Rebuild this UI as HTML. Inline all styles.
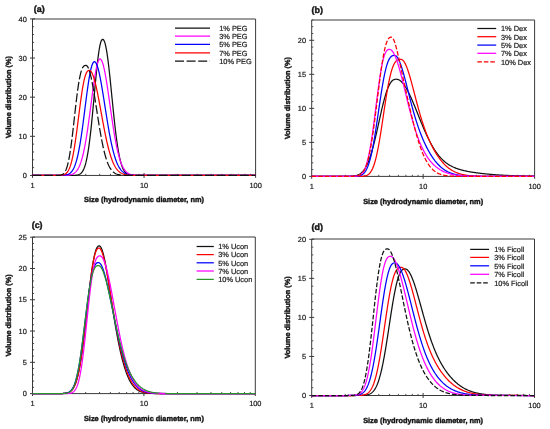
<!DOCTYPE html>
<html><head><meta charset="utf-8"><style>
html,body{margin:0;padding:0;background:#fff;}
svg{display:block;}
text{font-family:"Liberation Sans", Arial, sans-serif;fill:#1a1a1a;text-rendering:geometricPrecision;}
.b{font-weight:bold;stroke:#111;stroke-width:0.4px;}
.r{stroke:#1a1a1a;stroke-width:0.2px;}
</style></head><body>
<svg width="550" height="429" viewBox="0 0 550 429">
<rect width="550" height="429" fill="#fff"/>
<path d="M32.5,177.85 V19 H255.6 V177.85" fill="none" stroke="#3a3a3a" stroke-width="1"/>
<path d="M32.5,175.45 H255.6" fill="none" stroke="#3a3a3a" stroke-width="1"/>
<path d="M66.08,175.45 V173.85" stroke="#3a3a3a" stroke-width="0.9"/>
<path d="M85.72,175.45 V173.85" stroke="#3a3a3a" stroke-width="0.9"/>
<path d="M99.66,175.45 V173.85" stroke="#3a3a3a" stroke-width="0.9"/>
<path d="M110.47,175.45 V173.85" stroke="#3a3a3a" stroke-width="0.9"/>
<path d="M119.30,175.45 V173.85" stroke="#3a3a3a" stroke-width="0.9"/>
<path d="M126.77,175.45 V173.85" stroke="#3a3a3a" stroke-width="0.9"/>
<path d="M133.24,175.45 V173.85" stroke="#3a3a3a" stroke-width="0.9"/>
<path d="M138.95,175.45 V173.85" stroke="#3a3a3a" stroke-width="0.9"/>
<path d="M177.63,175.45 V173.85" stroke="#3a3a3a" stroke-width="0.9"/>
<path d="M197.27,175.45 V173.85" stroke="#3a3a3a" stroke-width="0.9"/>
<path d="M211.21,175.45 V173.85" stroke="#3a3a3a" stroke-width="0.9"/>
<path d="M222.02,175.45 V173.85" stroke="#3a3a3a" stroke-width="0.9"/>
<path d="M230.85,175.45 V173.85" stroke="#3a3a3a" stroke-width="0.9"/>
<path d="M238.32,175.45 V173.85" stroke="#3a3a3a" stroke-width="0.9"/>
<path d="M244.79,175.45 V173.85" stroke="#3a3a3a" stroke-width="0.9"/>
<path d="M250.50,175.45 V173.85" stroke="#3a3a3a" stroke-width="0.9"/>
<path d="M144.05,177.95 V172.95" stroke="#3a3a3a" stroke-width="1"/>
<path d="M30.0,175.45 H35.0" stroke="#3a3a3a" stroke-width="1"/>
<text class="r" x="26.80" y="178.10" text-anchor="end" font-size="7.4" >0</text>
<path d="M32.5,167.62 H34.1" stroke="#3a3a3a" stroke-width="0.9"/>
<path d="M32.5,159.79 H34.1" stroke="#3a3a3a" stroke-width="0.9"/>
<path d="M32.5,151.97 H34.1" stroke="#3a3a3a" stroke-width="0.9"/>
<path d="M32.5,144.14 H34.1" stroke="#3a3a3a" stroke-width="0.9"/>
<path d="M30.0,136.31 H35.0" stroke="#3a3a3a" stroke-width="1"/>
<text class="r" x="26.80" y="138.96" text-anchor="end" font-size="7.4" >10</text>
<path d="M32.5,128.49 H34.1" stroke="#3a3a3a" stroke-width="0.9"/>
<path d="M32.5,120.66 H34.1" stroke="#3a3a3a" stroke-width="0.9"/>
<path d="M32.5,112.83 H34.1" stroke="#3a3a3a" stroke-width="0.9"/>
<path d="M32.5,105.00 H34.1" stroke="#3a3a3a" stroke-width="0.9"/>
<path d="M30.0,97.17 H35.0" stroke="#3a3a3a" stroke-width="1"/>
<text class="r" x="26.80" y="99.83" text-anchor="end" font-size="7.4" >20</text>
<path d="M32.5,89.35 H34.1" stroke="#3a3a3a" stroke-width="0.9"/>
<path d="M32.5,81.52 H34.1" stroke="#3a3a3a" stroke-width="0.9"/>
<path d="M32.5,73.69 H34.1" stroke="#3a3a3a" stroke-width="0.9"/>
<path d="M32.5,65.87 H34.1" stroke="#3a3a3a" stroke-width="0.9"/>
<path d="M30.0,58.04 H35.0" stroke="#3a3a3a" stroke-width="1"/>
<text class="r" x="26.80" y="60.69" text-anchor="end" font-size="7.4" >30</text>
<path d="M32.5,50.21 H34.1" stroke="#3a3a3a" stroke-width="0.9"/>
<path d="M32.5,42.38 H34.1" stroke="#3a3a3a" stroke-width="0.9"/>
<path d="M32.5,34.56 H34.1" stroke="#3a3a3a" stroke-width="0.9"/>
<path d="M32.5,26.73 H34.1" stroke="#3a3a3a" stroke-width="0.9"/>
<path d="M30.0,18.90 H35.0" stroke="#3a3a3a" stroke-width="1"/>
<text class="r" x="26.80" y="21.55" text-anchor="end" font-size="7.4" >40</text>
<path d="M32.50,175.45 L69.50,175.45 L70.00,175.44 L70.50,175.44 L71.00,175.44 L71.50,175.43 L72.00,175.43 L72.50,175.42 L73.00,175.41 L73.50,175.40 L74.00,175.38 L74.50,175.36 L75.00,175.33 L75.50,175.29 L76.00,175.24 L76.50,175.18 L77.00,175.10 L77.50,175.00 L78.00,174.87 L78.50,174.72 L79.00,174.52 L79.50,174.29 L80.00,174.00 L80.50,173.65 L81.00,173.23 L81.50,172.73 L82.00,172.14 L82.50,171.43 L83.00,170.60 L83.50,169.64 L84.00,168.52 L84.50,167.23 L85.00,165.75 L85.50,164.06 L86.00,162.16 L86.50,160.02 L87.00,157.64 L87.50,154.99 L88.00,152.08 L88.50,148.89 L89.00,145.42 L89.50,141.67 L90.00,137.65 L90.50,133.36 L91.00,128.83 L91.50,124.07 L92.00,119.10 L92.50,113.96 L93.00,108.68 L93.50,103.29 L94.00,97.85 L94.50,92.39 L95.00,86.97 L95.50,81.63 L96.00,76.43 L96.50,71.41 L97.00,66.63 L97.50,62.14 L98.00,57.96 L98.50,54.16 L99.00,50.75 L99.50,47.77 L100.00,45.24 L100.50,43.17 L101.00,41.56 L101.50,40.42 L102.00,39.72 L102.50,39.43 L103.00,39.46 L103.50,39.80 L104.00,40.51 L104.50,41.62 L105.00,43.14 L105.50,45.06 L106.00,47.38 L106.50,50.09 L107.00,53.18 L107.50,56.61 L108.00,60.36 L108.50,64.41 L109.00,68.71 L109.50,73.23 L110.00,77.93 L110.50,82.78 L111.00,87.73 L111.50,92.74 L112.00,97.77 L112.50,102.79 L113.00,107.75 L113.50,112.64 L114.00,117.41 L114.50,122.04 L115.00,126.50 L115.50,130.78 L116.00,134.85 L116.50,138.71 L117.00,142.34 L117.50,145.74 L118.00,148.91 L118.50,151.84 L119.00,154.53 L119.50,157.00 L120.00,159.25 L120.50,161.29 L121.00,163.13 L121.50,164.77 L122.00,166.24 L122.50,167.54 L123.00,168.69 L123.50,169.69 L124.00,170.57 L124.50,171.34 L125.00,172.00 L125.50,172.56 L126.00,173.05 L126.50,173.46 L127.00,173.81 L127.50,174.10 L128.00,174.35 L128.50,174.56 L129.00,174.73 L129.50,174.87 L130.00,174.98 L130.50,175.08 L131.00,175.15 L131.50,175.22 L132.00,175.27 L132.50,175.31 L133.00,175.34 L133.50,175.36 L134.00,175.38 L134.50,175.40 L135.00,175.41 L135.50,175.42 L136.00,175.43 L136.50,175.43 L137.00,175.44 L137.50,175.44 L138.00,175.44 L138.50,175.44 L139.00,175.45 L255.50,175.45" fill="none" stroke="#111" stroke-width="1.25"/>
<path d="M32.50,175.45 L58.00,175.45 L58.50,175.44 L59.00,175.44 L59.50,175.44 L60.00,175.44 L60.50,175.44 L61.00,175.43 L61.50,175.43 L62.00,175.42 L62.50,175.42 L63.00,175.41 L63.50,175.40 L64.00,175.39 L64.50,175.38 L65.00,175.36 L65.50,175.34 L66.00,175.32 L66.50,175.29 L67.00,175.25 L67.50,175.21 L68.00,175.16 L68.50,175.11 L69.00,175.04 L69.50,174.96 L70.00,174.86 L70.50,174.75 L71.00,174.62 L71.50,174.47 L72.00,174.30 L72.50,174.10 L73.00,173.87 L73.50,173.60 L74.00,173.29 L74.50,172.95 L75.00,172.55 L75.50,172.10 L76.00,171.59 L76.50,171.02 L77.00,170.37 L77.50,169.65 L78.00,168.85 L78.50,167.95 L79.00,166.96 L79.50,165.87 L80.00,164.66 L80.50,163.34 L81.00,161.89 L81.50,160.31 L82.00,158.60 L82.50,156.74 L83.00,154.74 L83.50,152.59 L84.00,150.30 L84.50,147.85 L85.00,145.24 L85.50,142.49 L86.00,139.59 L86.50,136.55 L87.00,133.37 L87.50,130.06 L88.00,126.63 L88.50,123.09 L89.00,119.46 L89.50,115.75 L90.00,111.97 L90.50,108.16 L91.00,104.32 L91.50,100.48 L92.00,96.67 L92.50,92.90 L93.00,89.20 L93.50,85.61 L94.00,82.14 L94.50,78.81 L95.00,75.67 L95.50,72.73 L96.00,70.01 L96.50,67.55 L97.00,65.36 L97.50,63.46 L98.00,61.87 L98.50,60.61 L99.00,59.69 L99.50,59.13 L100.00,58.94 L100.50,59.09 L101.00,59.54 L101.50,60.28 L102.00,61.31 L102.50,62.61 L103.00,64.19 L103.50,66.01 L104.00,68.08 L104.50,70.37 L105.00,72.87 L105.50,75.57 L106.00,78.43 L106.50,81.45 L107.00,84.60 L107.50,87.87 L108.00,91.23 L108.50,94.66 L109.00,98.15 L109.50,101.67 L110.00,105.21 L110.50,108.74 L111.00,112.25 L111.50,115.73 L112.00,119.15 L112.50,122.51 L113.00,125.80 L113.50,128.99 L114.00,132.09 L114.50,135.08 L115.00,137.96 L115.50,140.72 L116.00,143.36 L116.50,145.87 L117.00,148.25 L117.50,150.50 L118.00,152.62 L118.50,154.61 L119.00,156.48 L119.50,158.22 L120.00,159.84 L120.50,161.34 L121.00,162.73 L121.50,164.01 L122.00,165.19 L122.50,166.27 L123.00,167.26 L123.50,168.15 L124.00,168.97 L124.50,169.71 L125.00,170.38 L125.50,170.98 L126.00,171.52 L126.50,172.00 L127.00,172.43 L127.50,172.81 L128.00,173.15 L128.50,173.46 L129.00,173.72 L129.50,173.96 L130.00,174.16 L130.50,174.34 L131.00,174.50 L131.50,174.64 L132.00,174.75 L132.50,174.86 L133.00,174.95 L133.50,175.02 L134.00,175.09 L134.50,175.15 L135.00,175.19 L135.50,175.24 L136.00,175.27 L136.50,175.30 L137.00,175.32 L137.50,175.35 L138.00,175.36 L138.50,175.38 L139.00,175.39 L139.50,175.40 L140.00,175.41 L140.50,175.42 L141.00,175.42 L141.50,175.43 L142.00,175.43 L142.50,175.44 L143.00,175.44 L143.50,175.44 L144.00,175.44 L144.50,175.44 L145.00,175.45 L255.50,175.45" fill="none" stroke="#ff00ff" stroke-width="1.25"/>
<path d="M32.50,175.45 L56.00,175.45 L56.50,175.44 L57.00,175.44 L57.50,175.44 L58.00,175.44 L58.50,175.43 L59.00,175.43 L59.50,175.42 L60.00,175.42 L60.50,175.41 L61.00,175.39 L61.50,175.38 L62.00,175.36 L62.50,175.34 L63.00,175.31 L63.50,175.27 L64.00,175.23 L64.50,175.17 L65.00,175.11 L65.50,175.03 L66.00,174.93 L66.50,174.82 L67.00,174.69 L67.50,174.52 L68.00,174.33 L68.50,174.11 L69.00,173.85 L69.50,173.54 L70.00,173.18 L70.50,172.77 L71.00,172.30 L71.50,171.75 L72.00,171.12 L72.50,170.41 L73.00,169.61 L73.50,168.70 L74.00,167.68 L74.50,166.54 L75.00,165.27 L75.50,163.87 L76.00,162.32 L76.50,160.62 L77.00,158.76 L77.50,156.74 L78.00,154.55 L78.50,152.19 L79.00,149.66 L79.50,146.96 L80.00,144.09 L80.50,141.05 L81.00,137.86 L81.50,134.52 L82.00,131.05 L82.50,127.45 L83.00,123.74 L83.50,119.94 L84.00,116.08 L84.50,112.16 L85.00,108.22 L85.50,104.29 L86.00,100.38 L86.50,96.53 L87.00,92.75 L87.50,89.09 L88.00,85.57 L88.50,82.21 L89.00,79.04 L89.50,76.09 L90.00,73.37 L90.50,70.91 L91.00,68.73 L91.50,66.83 L92.00,65.23 L92.50,63.93 L93.00,62.94 L93.50,62.26 L94.00,61.87 L94.50,61.76 L95.00,61.91 L95.50,62.34 L96.00,63.03 L96.50,63.98 L97.00,65.17 L97.50,66.60 L98.00,68.25 L98.50,70.11 L99.00,72.16 L99.50,74.40 L100.00,76.80 L100.50,79.36 L101.00,82.05 L101.50,84.86 L102.00,87.78 L102.50,90.78 L103.00,93.86 L103.50,96.99 L104.00,100.16 L104.50,103.35 L105.00,106.55 L105.50,109.76 L106.00,112.94 L106.50,116.09 L107.00,119.20 L107.50,122.26 L108.00,125.26 L108.50,128.19 L109.00,131.04 L109.50,133.80 L110.00,136.47 L110.50,139.05 L111.00,141.52 L111.50,143.90 L112.00,146.16 L112.50,148.32 L113.00,150.37 L113.50,152.32 L114.00,154.15 L114.50,155.89 L115.00,157.51 L115.50,159.04 L116.00,160.46 L116.50,161.79 L117.00,163.03 L117.50,164.18 L118.00,165.24 L118.50,166.22 L119.00,167.12 L119.50,167.95 L120.00,168.72 L120.50,169.41 L121.00,170.05 L121.50,170.62 L122.00,171.15 L122.50,171.62 L123.00,172.05 L123.50,172.44 L124.00,172.79 L124.50,173.10 L125.00,173.38 L125.50,173.63 L126.00,173.86 L126.50,174.05 L127.00,174.23 L127.50,174.39 L128.00,174.53 L128.50,174.65 L129.00,174.75 L129.50,174.85 L130.00,174.93 L130.50,175.00 L131.00,175.06 L131.50,175.12 L132.00,175.17 L132.50,175.21 L133.00,175.24 L133.50,175.27 L134.00,175.30 L134.50,175.32 L135.00,175.34 L135.50,175.36 L136.00,175.37 L136.50,175.39 L137.00,175.40 L137.50,175.40 L138.00,175.41 L138.50,175.42 L139.00,175.42 L139.50,175.43 L140.00,175.43 L140.50,175.43 L141.00,175.44 L141.50,175.44 L142.00,175.44 L142.50,175.44 L143.00,175.44 L143.50,175.45 L255.50,175.45" fill="none" stroke="#0000ff" stroke-width="1.25"/>
<path d="M32.50,175.45 L55.50,175.45 L56.00,175.44 L56.50,175.44 L57.00,175.44 L57.50,175.43 L58.00,175.42 L58.50,175.41 L59.00,175.40 L59.50,175.38 L60.00,175.36 L60.50,175.33 L61.00,175.28 L61.50,175.23 L62.00,175.16 L62.50,175.08 L63.00,174.97 L63.50,174.83 L64.00,174.66 L64.50,174.45 L65.00,174.19 L65.50,173.88 L66.00,173.51 L66.50,173.06 L67.00,172.52 L67.50,171.89 L68.00,171.16 L68.50,170.30 L69.00,169.31 L69.50,168.17 L70.00,166.88 L70.50,165.42 L71.00,163.78 L71.50,161.96 L72.00,159.94 L72.50,157.72 L73.00,155.30 L73.50,152.68 L74.00,149.86 L74.50,146.85 L75.00,143.66 L75.50,140.30 L76.00,136.78 L76.50,133.13 L77.00,129.37 L77.50,125.52 L78.00,121.61 L78.50,117.66 L79.00,113.72 L79.50,109.81 L80.00,105.96 L80.50,102.20 L81.00,98.56 L81.50,95.08 L82.00,91.77 L82.50,88.66 L83.00,85.77 L83.50,83.12 L84.00,80.72 L84.50,78.57 L85.00,76.70 L85.50,75.09 L86.00,73.75 L86.50,72.66 L87.00,71.81 L87.50,71.19 L88.00,70.78 L88.50,70.55 L89.00,70.45 L89.50,70.46 L90.00,70.62 L90.50,70.96 L91.00,71.48 L91.50,72.19 L92.00,73.07 L92.50,74.14 L93.00,75.37 L93.50,76.77 L94.00,78.33 L94.50,80.05 L95.00,81.90 L95.50,83.89 L96.00,86.01 L96.50,88.24 L97.00,90.57 L97.50,92.99 L98.00,95.50 L98.50,98.07 L99.00,100.71 L99.50,103.39 L100.00,106.10 L100.50,108.84 L101.00,111.60 L101.50,114.35 L102.00,117.10 L102.50,119.83 L103.00,122.53 L103.50,125.20 L104.00,127.82 L104.50,130.39 L105.00,132.91 L105.50,135.36 L106.00,137.75 L106.50,140.06 L107.00,142.29 L107.50,144.44 L108.00,146.51 L108.50,148.49 L109.00,150.38 L109.50,152.19 L110.00,153.90 L110.50,155.53 L111.00,157.08 L111.50,158.53 L112.00,159.90 L112.50,161.19 L113.00,162.39 L113.50,163.52 L114.00,164.57 L114.50,165.55 L115.00,166.45 L115.50,167.29 L116.00,168.07 L116.50,168.79 L117.00,169.44 L117.50,170.05 L118.00,170.60 L118.50,171.10 L119.00,171.56 L119.50,171.98 L120.00,172.36 L120.50,172.70 L121.00,173.01 L121.50,173.29 L122.00,173.54 L122.50,173.77 L123.00,173.97 L123.50,174.15 L124.00,174.31 L124.50,174.45 L125.00,174.58 L125.50,174.69 L126.00,174.79 L126.50,174.87 L127.00,174.95 L127.50,175.02 L128.00,175.08 L128.50,175.13 L129.00,175.17 L129.50,175.21 L130.00,175.25 L130.50,175.28 L131.00,175.30 L131.50,175.32 L132.00,175.34 L132.50,175.36 L133.00,175.37 L133.50,175.39 L134.00,175.40 L134.50,175.40 L135.00,175.41 L135.50,175.42 L136.00,175.42 L136.50,175.43 L137.00,175.43 L137.50,175.43 L138.00,175.44 L138.50,175.44 L139.00,175.44 L139.50,175.44 L140.00,175.44 L140.50,175.45 L255.50,175.45" fill="none" stroke="#ff0000" stroke-width="1.25"/>
<path d="M32.50,175.45 L55.00,175.45 L55.50,175.44 L56.00,175.44 L56.50,175.43 L57.00,175.42 L57.50,175.41 L58.00,175.39 L58.50,175.37 L59.00,175.33 L59.50,175.29 L60.00,175.22 L60.50,175.13 L61.00,175.01 L61.50,174.86 L62.00,174.65 L62.50,174.39 L63.00,174.06 L63.50,173.65 L64.00,173.14 L64.50,172.51 L65.00,171.75 L65.50,170.83 L66.00,169.74 L66.50,168.46 L67.00,166.96 L67.50,165.25 L68.00,163.29 L68.50,161.08 L69.00,158.61 L69.50,155.87 L70.00,152.87 L70.50,149.62 L71.00,146.11 L71.50,142.38 L72.00,138.45 L72.50,134.33 L73.00,130.06 L73.50,125.69 L74.00,121.23 L74.50,116.75 L75.00,112.27 L75.50,107.84 L76.00,103.51 L76.50,99.30 L77.00,95.26 L77.50,91.42 L78.00,87.81 L78.50,84.45 L79.00,81.37 L79.50,78.57 L80.00,76.06 L80.50,73.86 L81.00,71.94 L81.50,70.32 L82.00,68.97 L82.50,67.88 L83.00,67.03 L83.50,66.39 L84.00,65.95 L84.50,65.66 L85.00,65.51 L85.50,65.45 L86.00,65.43 L86.50,65.55 L87.00,65.90 L87.50,66.49 L88.00,67.32 L88.50,68.38 L89.00,69.68 L89.50,71.19 L90.00,72.92 L90.50,74.86 L91.00,76.98 L91.50,79.28 L92.00,81.75 L92.50,84.37 L93.00,87.12 L93.50,89.99 L94.00,92.96 L94.50,96.01 L95.00,99.13 L95.50,102.30 L96.00,105.50 L96.50,108.72 L97.00,111.95 L97.50,115.16 L98.00,118.34 L98.50,121.49 L99.00,124.58 L99.50,127.61 L100.00,130.57 L100.50,133.44 L101.00,136.23 L101.50,138.92 L102.00,141.50 L102.50,143.98 L103.00,146.35 L103.50,148.60 L104.00,150.74 L104.50,152.76 L105.00,154.67 L105.50,156.46 L106.00,158.14 L106.50,159.71 L107.00,161.17 L107.50,162.53 L108.00,163.79 L108.50,164.95 L109.00,166.02 L109.50,166.99 L110.00,167.89 L110.50,168.71 L111.00,169.45 L111.50,170.13 L112.00,170.74 L112.50,171.29 L113.00,171.78 L113.50,172.23 L114.00,172.62 L114.50,172.98 L115.00,173.29 L115.50,173.57 L116.00,173.82 L116.50,174.04 L117.00,174.23 L117.50,174.40 L118.00,174.55 L118.50,174.67 L119.00,174.79 L119.50,174.88 L120.00,174.97 L120.50,175.04 L121.00,175.10 L121.50,175.16 L122.00,175.20 L122.50,175.24 L123.00,175.28 L123.50,175.30 L124.00,175.33 L124.50,175.35 L125.00,175.37 L125.50,175.38 L126.00,175.39 L126.50,175.40 L127.00,175.41 L127.50,175.42 L128.00,175.42 L128.50,175.43 L129.00,175.43 L129.50,175.44 L130.00,175.44 L130.50,175.44 L131.00,175.44 L131.50,175.44 L132.00,175.45 L255.50,175.45" fill="none" stroke="#111" stroke-width="1.25" stroke-dasharray="9,2.6"/>
<text class="r" x="32.50" y="188.30" text-anchor="middle" font-size="7.4" >1</text>
<text class="r" x="144.05" y="188.30" text-anchor="middle" font-size="7.4" >10</text>
<text class="r" x="255.60" y="188.30" text-anchor="middle" font-size="7.4" >100</text>
<text class="b" x="144.05" y="202.00" text-anchor="middle" font-size="7.4" >Size (hydrodynamic diameter, nm)</text>
<text transform="translate(11.20,97.17) rotate(-90)" class="b" text-anchor="middle" font-size="7.4">Volume distribution (%)</text>
<text class="b" x="33.80" y="12.20" text-anchor="start" font-size="8.9" >(a)</text>
<path d="M175,28.0 H210" stroke="#111" stroke-width="1.25"/>
<text class="r" x="219.20" y="30.80" text-anchor="start" font-size="7.4" >1% PEG</text>
<path d="M175,36.1 H210" stroke="#ff00ff" stroke-width="1.25"/>
<text class="r" x="219.20" y="38.90" text-anchor="start" font-size="7.4" >3% PEG</text>
<path d="M175,44.4 H210" stroke="#0000ff" stroke-width="1.25"/>
<text class="r" x="219.20" y="47.20" text-anchor="start" font-size="7.4" >5% PEG</text>
<path d="M175,52.8 H210" stroke="#ff0000" stroke-width="1.25"/>
<text class="r" x="219.20" y="55.60" text-anchor="start" font-size="7.4" >7% PEG</text>
<path d="M175,61.2 H210" stroke="#111" stroke-width="1.25" stroke-dasharray="9,2.6"/>
<text class="r" x="219.20" y="64.00" text-anchor="start" font-size="7.4" >10% PEG</text>
<path d="M311.7,178.8 V20 H534.6 V178.8" fill="none" stroke="#3a3a3a" stroke-width="1"/>
<path d="M311.7,176.4 H534.6" fill="none" stroke="#3a3a3a" stroke-width="1"/>
<path d="M345.25,176.4 V174.8" stroke="#3a3a3a" stroke-width="0.9"/>
<path d="M364.88,176.4 V174.8" stroke="#3a3a3a" stroke-width="0.9"/>
<path d="M378.80,176.4 V174.8" stroke="#3a3a3a" stroke-width="0.9"/>
<path d="M389.60,176.4 V174.8" stroke="#3a3a3a" stroke-width="0.9"/>
<path d="M398.42,176.4 V174.8" stroke="#3a3a3a" stroke-width="0.9"/>
<path d="M405.89,176.4 V174.8" stroke="#3a3a3a" stroke-width="0.9"/>
<path d="M412.35,176.4 V174.8" stroke="#3a3a3a" stroke-width="0.9"/>
<path d="M418.05,176.4 V174.8" stroke="#3a3a3a" stroke-width="0.9"/>
<path d="M456.70,176.4 V174.8" stroke="#3a3a3a" stroke-width="0.9"/>
<path d="M476.33,176.4 V174.8" stroke="#3a3a3a" stroke-width="0.9"/>
<path d="M490.25,176.4 V174.8" stroke="#3a3a3a" stroke-width="0.9"/>
<path d="M501.05,176.4 V174.8" stroke="#3a3a3a" stroke-width="0.9"/>
<path d="M509.87,176.4 V174.8" stroke="#3a3a3a" stroke-width="0.9"/>
<path d="M517.34,176.4 V174.8" stroke="#3a3a3a" stroke-width="0.9"/>
<path d="M523.80,176.4 V174.8" stroke="#3a3a3a" stroke-width="0.9"/>
<path d="M529.50,176.4 V174.8" stroke="#3a3a3a" stroke-width="0.9"/>
<path d="M423.15,178.9 V173.9" stroke="#3a3a3a" stroke-width="1"/>
<path d="M309.2,176.40 H314.2" stroke="#3a3a3a" stroke-width="1"/>
<text class="r" x="306.00" y="179.05" text-anchor="end" font-size="7.4" >0</text>
<path d="M311.7,169.60 H313.3" stroke="#3a3a3a" stroke-width="0.9"/>
<path d="M311.7,162.79 H313.3" stroke="#3a3a3a" stroke-width="0.9"/>
<path d="M311.7,155.99 H313.3" stroke="#3a3a3a" stroke-width="0.9"/>
<path d="M311.7,149.18 H313.3" stroke="#3a3a3a" stroke-width="0.9"/>
<path d="M309.2,142.38 H314.2" stroke="#3a3a3a" stroke-width="1"/>
<text class="r" x="306.00" y="145.03" text-anchor="end" font-size="7.4" >5</text>
<path d="M311.7,135.57 H313.3" stroke="#3a3a3a" stroke-width="0.9"/>
<path d="M311.7,128.77 H313.3" stroke="#3a3a3a" stroke-width="0.9"/>
<path d="M311.7,121.97 H313.3" stroke="#3a3a3a" stroke-width="0.9"/>
<path d="M311.7,115.16 H313.3" stroke="#3a3a3a" stroke-width="0.9"/>
<path d="M309.2,108.36 H314.2" stroke="#3a3a3a" stroke-width="1"/>
<text class="r" x="306.00" y="111.01" text-anchor="end" font-size="7.4" >10</text>
<path d="M311.7,101.55 H313.3" stroke="#3a3a3a" stroke-width="0.9"/>
<path d="M311.7,94.75 H313.3" stroke="#3a3a3a" stroke-width="0.9"/>
<path d="M311.7,87.94 H313.3" stroke="#3a3a3a" stroke-width="0.9"/>
<path d="M311.7,81.14 H313.3" stroke="#3a3a3a" stroke-width="0.9"/>
<path d="M309.2,74.33 H314.2" stroke="#3a3a3a" stroke-width="1"/>
<text class="r" x="306.00" y="76.98" text-anchor="end" font-size="7.4" >15</text>
<path d="M311.7,67.53 H313.3" stroke="#3a3a3a" stroke-width="0.9"/>
<path d="M311.7,60.73 H313.3" stroke="#3a3a3a" stroke-width="0.9"/>
<path d="M311.7,53.92 H313.3" stroke="#3a3a3a" stroke-width="0.9"/>
<path d="M311.7,47.12 H313.3" stroke="#3a3a3a" stroke-width="0.9"/>
<path d="M309.2,40.31 H314.2" stroke="#3a3a3a" stroke-width="1"/>
<text class="r" x="306.00" y="42.96" text-anchor="end" font-size="7.4" >20</text>
<path d="M311.7,33.51 H313.3" stroke="#3a3a3a" stroke-width="0.9"/>
<path d="M311.7,26.70 H313.3" stroke="#3a3a3a" stroke-width="0.9"/>
<path d="M311.7,19.90 H313.3" stroke="#3a3a3a" stroke-width="0.9"/>
<path d="M311.70,176.40 L341.70,176.40 L342.20,176.39 L342.70,176.39 L343.20,176.39 L343.70,176.39 L344.20,176.39 L344.70,176.38 L345.20,176.38 L345.70,176.38 L346.20,176.37 L346.70,176.36 L347.20,176.36 L347.70,176.35 L348.20,176.34 L348.70,176.32 L349.20,176.31 L349.70,176.29 L350.20,176.27 L350.70,176.24 L351.20,176.21 L351.70,176.18 L352.20,176.14 L352.70,176.09 L353.20,176.03 L353.70,175.97 L354.20,175.90 L354.70,175.81 L355.20,175.72 L355.70,175.61 L356.20,175.48 L356.70,175.34 L357.20,175.18 L357.70,175.00 L358.20,174.80 L358.70,174.57 L359.20,174.31 L359.70,174.03 L360.20,173.71 L360.70,173.36 L361.20,172.98 L361.70,172.55 L362.20,172.08 L362.70,171.57 L363.20,171.00 L363.70,170.39 L364.20,169.73 L364.70,169.00 L365.20,168.22 L365.70,167.38 L366.20,166.48 L366.70,165.51 L367.20,164.47 L367.70,163.37 L368.20,162.19 L368.70,160.95 L369.20,159.63 L369.70,158.24 L370.20,156.78 L370.70,155.25 L371.20,153.64 L371.70,151.97 L372.20,150.23 L372.70,148.42 L373.20,146.56 L373.70,144.63 L374.20,142.64 L374.70,140.61 L375.20,138.53 L375.70,136.40 L376.20,134.24 L376.70,132.04 L377.20,129.82 L377.70,127.58 L378.20,125.32 L378.70,123.06 L379.20,120.80 L379.70,118.54 L380.20,116.30 L380.70,114.08 L381.20,111.89 L381.70,109.73 L382.20,107.61 L382.70,105.53 L383.20,103.51 L383.70,101.55 L384.20,99.65 L384.70,97.83 L385.20,96.07 L385.70,94.40 L386.20,92.81 L386.70,91.30 L387.20,89.88 L387.70,88.55 L388.20,87.32 L388.70,86.17 L389.20,85.13 L389.70,84.17 L390.20,83.31 L390.70,82.54 L391.20,81.86 L391.70,81.27 L392.20,80.77 L392.70,80.35 L393.20,80.00 L393.70,79.73 L394.20,79.53 L394.70,79.38 L395.20,79.29 L395.70,79.25 L396.20,79.23 L396.70,79.25 L397.20,79.31 L397.70,79.42 L398.20,79.58 L398.70,79.78 L399.20,80.03 L399.70,80.33 L400.20,80.68 L400.70,81.07 L401.20,81.50 L401.70,81.98 L402.20,82.50 L402.70,83.07 L403.20,83.67 L403.70,84.32 L404.20,85.00 L404.70,85.73 L405.20,86.49 L405.70,87.29 L406.20,88.12 L406.70,88.99 L407.20,89.89 L407.70,90.82 L408.20,91.79 L408.70,92.77 L409.20,93.79 L409.70,94.83 L410.20,95.90 L410.70,96.99 L411.20,98.10 L411.70,99.23 L412.20,100.37 L412.70,101.54 L413.20,102.72 L413.70,103.91 L414.20,105.11 L414.70,106.33 L415.20,107.55 L415.70,108.78 L416.20,110.02 L416.70,111.26 L417.20,112.50 L417.70,113.75 L418.20,115.00 L418.70,116.24 L419.20,117.49 L419.70,118.73 L420.20,119.96 L420.70,121.19 L421.20,122.41 L421.70,123.63 L422.20,124.84 L422.70,126.03 L423.20,127.22 L423.70,128.39 L424.20,129.55 L424.70,130.70 L425.20,131.83 L425.70,132.95 L426.20,134.05 L426.70,135.14 L427.20,136.21 L427.70,137.26 L428.20,138.30 L428.70,139.32 L429.20,140.31 L429.70,141.29 L430.20,142.25 L430.70,143.19 L431.20,144.11 L431.70,145.01 L432.20,145.90 L432.70,146.76 L433.20,147.60 L433.70,148.42 L434.20,149.22 L434.70,150.00 L435.20,150.76 L435.70,151.50 L436.20,152.22 L436.70,152.92 L437.20,153.60 L437.70,154.27 L438.20,154.91 L438.70,155.54 L439.20,156.14 L439.70,156.73 L440.20,157.30 L440.70,157.85 L441.20,158.39 L441.70,158.91 L442.20,159.41 L442.70,159.90 L443.20,160.37 L443.70,160.82 L444.20,161.26 L444.70,161.69 L445.20,162.10 L445.70,162.50 L446.20,162.88 L446.70,163.25 L447.20,163.61 L447.70,163.95 L448.20,164.29 L448.70,164.61 L449.20,164.92 L449.70,165.22 L450.20,165.51 L450.70,165.79 L451.20,166.06 L451.70,166.32 L452.20,166.57 L452.70,166.81 L453.20,167.05 L453.70,167.27 L454.20,167.49 L454.70,167.70 L455.20,167.91 L455.70,168.11 L456.20,168.30 L456.70,168.48 L457.20,168.66 L457.70,168.83 L458.20,169.00 L458.70,169.16 L459.20,169.32 L459.70,169.47 L460.20,169.62 L460.70,169.76 L461.20,169.90 L461.70,170.03 L462.20,170.16 L462.70,170.29 L463.20,170.41 L463.70,170.53 L464.20,170.65 L464.70,170.76 L465.20,170.88 L465.70,170.98 L466.20,171.09 L466.70,171.19 L467.20,171.29 L467.70,171.39 L468.20,171.49 L468.70,171.58 L469.20,171.67 L469.70,171.76 L470.20,171.85 L470.70,171.93 L471.20,172.02 L471.70,172.10 L472.20,172.18 L472.70,172.26 L473.20,172.34 L473.70,172.41 L474.20,172.49 L474.70,172.56 L475.20,172.63 L475.70,172.70 L476.20,172.77 L476.70,172.84 L477.20,172.91 L477.70,172.98 L478.20,173.04 L478.70,173.10 L479.20,173.17 L479.70,173.23 L480.20,173.29 L480.70,173.35 L481.20,173.41 L481.70,173.47 L482.20,173.52 L482.70,173.58 L483.20,173.63 L483.70,173.69 L484.20,173.74 L484.70,173.79 L485.20,173.85 L485.70,173.90 L486.20,173.95 L486.70,174.00 L487.20,174.04 L487.70,174.09 L488.20,174.14 L488.70,174.19 L489.20,174.23 L489.70,174.28 L490.20,174.32 L490.70,174.36 L491.20,174.41 L491.70,174.45 L492.20,174.49 L492.70,174.53 L493.20,174.57 L493.70,174.61 L494.20,174.65 L494.70,174.69 L495.20,174.72 L495.70,174.76 L496.20,174.79 L496.70,174.83 L497.20,174.87 L497.70,174.90 L498.20,174.93 L498.70,174.97 L499.20,175.00 L499.70,175.03 L500.20,175.06 L500.70,175.09 L501.20,175.12 L501.70,175.15 L502.20,175.18 L502.70,175.21 L503.20,175.24 L503.70,175.26 L504.20,175.29 L504.70,175.32 L505.20,175.34 L505.70,175.37 L506.20,175.39 L506.70,175.42 L507.20,175.44 L507.70,175.46 L508.20,175.49 L508.70,175.51 L509.20,175.53 L509.70,175.55 L510.20,175.57 L510.70,175.59 L511.20,175.62 L511.70,175.63 L512.20,175.65 L512.70,175.67 L513.20,175.69 L513.70,175.71 L514.20,175.73 L514.70,175.75 L515.20,175.76 L515.70,175.78 L516.20,175.80 L516.70,175.81 L517.20,175.83 L517.70,175.84 L518.20,175.86 L518.70,175.87 L519.20,175.89 L519.70,175.90 L520.20,175.91 L520.70,175.93 L521.20,175.94 L521.70,175.95 L522.20,175.96 L522.70,175.98 L523.20,175.99 L523.70,176.00 L524.20,176.01 L524.70,176.02 L525.20,176.03 L525.70,176.04 L526.20,176.05 L526.70,176.06 L527.20,176.07 L527.70,176.08 L528.20,176.09 L528.70,176.10 L529.20,176.11 L529.70,176.12 L530.20,176.12 L530.70,176.13 L531.20,176.14 L531.70,176.15 L532.20,176.16 L532.70,176.16 L533.20,176.17 L533.70,176.18 L534.20,176.18" fill="none" stroke="#111" stroke-width="1.25"/>
<path d="M311.70,176.40 L356.70,176.40 L357.20,176.39 L357.70,176.39 L358.20,176.39 L358.70,176.38 L359.20,176.38 L359.70,176.37 L360.20,176.36 L360.70,176.34 L361.20,176.33 L361.70,176.30 L362.20,176.27 L362.70,176.24 L363.20,176.19 L363.70,176.13 L364.20,176.06 L364.70,175.97 L365.20,175.86 L365.70,175.73 L366.20,175.57 L366.70,175.37 L367.20,175.14 L367.70,174.87 L368.20,174.55 L368.70,174.17 L369.20,173.73 L369.70,173.22 L370.20,172.64 L370.70,171.97 L371.20,171.21 L371.70,170.35 L372.20,169.38 L372.70,168.30 L373.20,167.10 L373.70,165.78 L374.20,164.32 L374.70,162.72 L375.20,160.99 L375.70,159.12 L376.20,157.10 L376.70,154.94 L377.20,152.64 L377.70,150.20 L378.20,147.62 L378.70,144.93 L379.20,142.11 L379.70,139.18 L380.20,136.15 L380.70,133.03 L381.20,129.84 L381.70,126.58 L382.20,123.27 L382.70,119.94 L383.20,116.58 L383.70,113.23 L384.20,109.89 L384.70,106.57 L385.20,103.31 L385.70,100.10 L386.20,96.96 L386.70,93.91 L387.20,90.96 L387.70,88.12 L388.20,85.40 L388.70,82.81 L389.20,80.35 L389.70,78.03 L390.20,75.86 L390.70,73.83 L391.20,71.96 L391.70,70.23 L392.20,68.66 L392.70,67.24 L393.20,65.95 L393.70,64.81 L394.20,63.81 L394.70,62.93 L395.20,62.18 L395.70,61.54 L396.20,61.00 L396.70,60.57 L397.20,60.22 L397.70,59.95 L398.20,59.75 L398.70,59.61 L399.20,59.52 L399.70,59.47 L400.20,59.44 L400.70,59.43 L401.20,59.44 L401.70,59.55 L402.20,59.79 L402.70,60.14 L403.20,60.62 L403.70,61.21 L404.20,61.92 L404.70,62.74 L405.20,63.66 L405.70,64.69 L406.20,65.82 L406.70,67.04 L407.20,68.35 L407.70,69.75 L408.20,71.22 L408.70,72.76 L409.20,74.37 L409.70,76.04 L410.20,77.76 L410.70,79.52 L411.20,81.33 L411.70,83.17 L412.20,85.04 L412.70,86.93 L413.20,88.84 L413.70,90.76 L414.20,92.68 L414.70,94.61 L415.20,96.53 L415.70,98.45 L416.20,100.36 L416.70,102.25 L417.20,104.13 L417.70,105.98 L418.20,107.82 L418.70,109.62 L419.20,111.40 L419.70,113.15 L420.20,114.87 L420.70,116.56 L421.20,118.21 L421.70,119.83 L422.20,121.42 L422.70,122.98 L423.20,124.50 L423.70,125.98 L424.20,127.44 L424.70,128.86 L425.20,130.24 L425.70,131.60 L426.20,132.92 L426.70,134.21 L427.20,135.47 L427.70,136.69 L428.20,137.89 L428.70,139.07 L429.20,140.21 L429.70,141.32 L430.20,142.41 L430.70,143.48 L431.20,144.51 L431.70,145.53 L432.20,146.52 L432.70,147.48 L433.20,148.42 L433.70,149.34 L434.20,150.24 L434.70,151.12 L435.20,151.97 L435.70,152.81 L436.20,153.62 L436.70,154.42 L437.20,155.19 L437.70,155.94 L438.20,156.68 L438.70,157.40 L439.20,158.09 L439.70,158.77 L440.20,159.44 L440.70,160.08 L441.20,160.70 L441.70,161.31 L442.20,161.90 L442.70,162.48 L443.20,163.04 L443.70,163.58 L444.20,164.10 L444.70,164.61 L445.20,165.10 L445.70,165.58 L446.20,166.04 L446.70,166.49 L447.20,166.92 L447.70,167.34 L448.20,167.74 L448.70,168.13 L449.20,168.50 L449.70,168.86 L450.20,169.21 L450.70,169.55 L451.20,169.87 L451.70,170.18 L452.20,170.48 L452.70,170.77 L453.20,171.05 L453.70,171.31 L454.20,171.56 L454.70,171.81 L455.20,172.04 L455.70,172.27 L456.20,172.48 L456.70,172.68 L457.20,172.88 L457.70,173.07 L458.20,173.25 L458.70,173.42 L459.20,173.58 L459.70,173.73 L460.20,173.88 L460.70,174.02 L461.20,174.16 L461.70,174.28 L462.20,174.40 L462.70,174.52 L463.20,174.63 L463.70,174.73 L464.20,174.83 L464.70,174.92 L465.20,175.01 L465.70,175.10 L466.20,175.18 L466.70,175.25 L467.20,175.32 L467.70,175.39 L468.20,175.45 L468.70,175.51 L469.20,175.57 L469.70,175.62 L470.20,175.67 L470.70,175.72 L471.20,175.76 L471.70,175.81 L472.20,175.85 L472.70,175.88 L473.20,175.92 L473.70,175.95 L474.20,175.98 L474.70,176.01 L475.20,176.04 L475.70,176.06 L476.20,176.09 L476.70,176.11 L477.20,176.13 L477.70,176.15 L478.20,176.17 L478.70,176.18 L479.20,176.20 L479.70,176.21 L480.20,176.23 L480.70,176.24 L481.20,176.25 L481.70,176.26 L482.20,176.27 L482.70,176.28 L483.20,176.29 L483.70,176.30 L484.20,176.31 L484.70,176.31 L485.20,176.32 L485.70,176.33 L486.20,176.33 L486.70,176.34 L487.20,176.34 L487.70,176.35 L488.20,176.35 L488.70,176.36 L489.20,176.36 L489.70,176.36 L490.20,176.37 L490.70,176.37 L491.20,176.37 L491.70,176.37 L492.20,176.38 L492.70,176.38 L493.20,176.38 L493.70,176.38 L494.20,176.38 L494.70,176.38 L495.20,176.39 L495.70,176.39 L496.20,176.39 L496.70,176.39 L497.20,176.39 L497.70,176.39 L498.20,176.39 L498.70,176.39 L499.20,176.39 L499.70,176.39 L500.20,176.39 L500.70,176.40 L534.20,176.40" fill="none" stroke="#ff0000" stroke-width="1.25"/>
<path d="M311.70,176.40 L349.70,176.40 L350.20,176.39 L350.70,176.39 L351.20,176.39 L351.70,176.39 L352.20,176.38 L352.70,176.38 L353.20,176.37 L353.70,176.36 L354.20,176.35 L354.70,176.33 L355.20,176.31 L355.70,176.29 L356.20,176.26 L356.70,176.22 L357.20,176.17 L357.70,176.11 L358.20,176.04 L358.70,175.95 L359.20,175.84 L359.70,175.72 L360.20,175.57 L360.70,175.39 L361.20,175.17 L361.70,174.92 L362.20,174.63 L362.70,174.29 L363.20,173.89 L363.70,173.44 L364.20,172.92 L364.70,172.32 L365.20,171.65 L365.70,170.88 L366.20,170.03 L366.70,169.07 L367.20,168.01 L367.70,166.83 L368.20,165.53 L368.70,164.11 L369.20,162.56 L369.70,160.87 L370.20,159.05 L370.70,157.09 L371.20,154.99 L371.70,152.75 L372.20,150.37 L372.70,147.86 L373.20,145.22 L373.70,142.45 L374.20,139.56 L374.70,136.57 L375.20,133.47 L375.70,130.29 L376.20,127.03 L376.70,123.70 L377.20,120.33 L377.70,116.92 L378.20,113.49 L378.70,110.05 L379.20,106.62 L379.70,103.22 L380.20,99.86 L380.70,96.56 L381.20,93.33 L381.70,90.18 L382.20,87.13 L382.70,84.19 L383.20,81.37 L383.70,78.68 L384.20,76.12 L384.70,73.72 L385.20,71.47 L385.70,69.37 L386.20,67.43 L386.70,65.65 L387.20,64.03 L387.70,62.58 L388.20,61.28 L388.70,60.13 L389.20,59.13 L389.70,58.27 L390.20,57.55 L390.70,56.95 L391.20,56.48 L391.70,56.10 L392.20,55.83 L392.70,55.63 L393.20,55.51 L393.70,55.45 L394.20,55.42 L394.70,55.42 L395.20,55.51 L395.70,55.73 L396.20,56.08 L396.70,56.56 L397.20,57.16 L397.70,57.88 L398.20,58.71 L398.70,59.67 L399.20,60.73 L399.70,61.89 L400.20,63.16 L400.70,64.51 L401.20,65.96 L401.70,67.48 L402.20,69.08 L402.70,70.74 L403.20,72.47 L403.70,74.25 L404.20,76.08 L404.70,77.95 L405.20,79.85 L405.70,81.78 L406.20,83.74 L406.70,85.71 L407.20,87.69 L407.70,89.67 L408.20,91.66 L408.70,93.64 L409.20,95.62 L409.70,97.58 L410.20,99.53 L410.70,101.46 L411.20,103.36 L411.70,105.24 L412.20,107.10 L412.70,108.93 L413.20,110.72 L413.70,112.49 L414.20,114.23 L414.70,115.93 L415.20,117.60 L415.70,119.23 L416.20,120.83 L416.70,122.40 L417.20,123.93 L417.70,125.43 L418.20,126.90 L418.70,128.34 L419.20,129.74 L419.70,131.11 L420.20,132.45 L420.70,133.77 L421.20,135.05 L421.70,136.30 L422.20,137.53 L422.70,138.72 L423.20,139.89 L423.70,141.04 L424.20,142.15 L424.70,143.25 L425.20,144.32 L425.70,145.36 L426.20,146.38 L426.70,147.38 L427.20,148.35 L427.70,149.30 L428.20,150.23 L428.70,151.14 L429.20,152.02 L429.70,152.89 L430.20,153.73 L430.70,154.55 L431.20,155.35 L431.70,156.13 L432.20,156.89 L432.70,157.63 L433.20,158.35 L433.70,159.05 L434.20,159.73 L434.70,160.39 L435.20,161.04 L435.70,161.66 L436.20,162.26 L436.70,162.85 L437.20,163.42 L437.70,163.97 L438.20,164.50 L438.70,165.02 L439.20,165.52 L439.70,166.00 L440.20,166.47 L440.70,166.92 L441.20,167.35 L441.70,167.77 L442.20,168.17 L442.70,168.56 L443.20,168.93 L443.70,169.29 L444.20,169.64 L444.70,169.97 L445.20,170.29 L445.70,170.59 L446.20,170.89 L446.70,171.17 L447.20,171.44 L447.70,171.70 L448.20,171.94 L448.70,172.18 L449.20,172.40 L449.70,172.62 L450.20,172.82 L450.70,173.02 L451.20,173.21 L451.70,173.38 L452.20,173.55 L452.70,173.72 L453.20,173.87 L453.70,174.02 L454.20,174.15 L454.70,174.29 L455.20,174.41 L455.70,174.53 L456.20,174.64 L456.70,174.75 L457.20,174.85 L457.70,174.94 L458.20,175.03 L458.70,175.12 L459.20,175.20 L459.70,175.28 L460.20,175.35 L460.70,175.42 L461.20,175.48 L461.70,175.54 L462.20,175.60 L462.70,175.65 L463.20,175.70 L463.70,175.75 L464.20,175.79 L464.70,175.83 L465.20,175.87 L465.70,175.91 L466.20,175.94 L466.70,175.97 L467.20,176.00 L467.70,176.03 L468.20,176.06 L468.70,176.08 L469.20,176.11 L469.70,176.13 L470.20,176.15 L470.70,176.17 L471.20,176.18 L471.70,176.20 L472.20,176.21 L472.70,176.23 L473.20,176.24 L473.70,176.25 L474.20,176.26 L474.70,176.28 L475.20,176.28 L475.70,176.29 L476.20,176.30 L476.70,176.31 L477.20,176.32 L477.70,176.32 L478.20,176.33 L478.70,176.34 L479.20,176.34 L479.70,176.35 L480.20,176.35 L480.70,176.35 L481.20,176.36 L481.70,176.36 L482.20,176.36 L482.70,176.37 L483.20,176.37 L483.70,176.37 L484.20,176.38 L484.70,176.38 L485.20,176.38 L485.70,176.38 L486.20,176.38 L486.70,176.38 L487.20,176.39 L487.70,176.39 L488.20,176.39 L488.70,176.39 L489.20,176.39 L489.70,176.39 L490.20,176.39 L490.70,176.39 L491.20,176.39 L491.70,176.39 L492.20,176.39 L492.70,176.40 L534.20,176.40" fill="none" stroke="#0000ff" stroke-width="1.25"/>
<path d="M311.70,176.40 L348.70,176.40 L349.20,176.39 L349.70,176.39 L350.20,176.39 L350.70,176.39 L351.20,176.38 L351.70,176.37 L352.20,176.36 L352.70,176.35 L353.20,176.34 L353.70,176.32 L354.20,176.29 L354.70,176.26 L355.20,176.22 L355.70,176.18 L356.20,176.11 L356.70,176.04 L357.20,175.95 L357.70,175.84 L358.20,175.70 L358.70,175.53 L359.20,175.33 L359.70,175.10 L360.20,174.82 L360.70,174.48 L361.20,174.09 L361.70,173.64 L362.20,173.11 L362.70,172.50 L363.20,171.80 L363.70,171.00 L364.20,170.09 L364.70,169.06 L365.20,167.91 L365.70,166.62 L366.20,165.19 L366.70,163.61 L367.20,161.87 L367.70,159.96 L368.20,157.89 L368.70,155.64 L369.20,153.23 L369.70,150.64 L370.20,147.87 L370.70,144.94 L371.20,141.85 L371.70,138.61 L372.20,135.22 L372.70,131.70 L373.20,128.06 L373.70,124.31 L374.20,120.48 L374.70,116.59 L375.20,112.64 L375.70,108.67 L376.20,104.69 L376.70,100.73 L377.20,96.80 L377.70,92.94 L378.20,89.16 L378.70,85.47 L379.20,81.91 L379.70,78.48 L380.20,75.22 L380.70,72.12 L381.20,69.20 L381.70,66.48 L382.20,63.96 L382.70,61.65 L383.20,59.56 L383.70,57.68 L384.20,56.01 L384.70,54.56 L385.20,53.31 L385.70,52.26 L386.20,51.41 L386.70,50.73 L387.20,50.21 L387.70,49.85 L388.20,49.61 L388.70,49.48 L389.20,49.43 L389.70,49.44 L390.20,49.54 L390.70,49.75 L391.20,50.06 L391.70,50.49 L392.20,51.02 L392.70,51.65 L393.20,52.39 L393.70,53.23 L394.20,54.16 L394.70,55.19 L395.20,56.31 L395.70,57.53 L396.20,58.82 L396.70,60.20 L397.20,61.65 L397.70,63.18 L398.20,64.77 L398.70,66.43 L399.20,68.15 L399.70,69.92 L400.20,71.74 L400.70,73.61 L401.20,75.52 L401.70,77.46 L402.20,79.44 L402.70,81.45 L403.20,83.47 L403.70,85.52 L404.20,87.58 L404.70,89.64 L405.20,91.72 L405.70,93.79 L406.20,95.86 L406.70,97.93 L407.20,99.99 L407.70,102.03 L408.20,104.06 L408.70,106.07 L409.20,108.06 L409.70,110.02 L410.20,111.96 L410.70,113.87 L411.20,115.75 L411.70,117.60 L412.20,119.42 L412.70,121.20 L413.20,122.94 L413.70,124.65 L414.20,126.33 L414.70,127.96 L415.20,129.56 L415.70,131.11 L416.20,132.63 L416.70,134.11 L417.20,135.55 L417.70,136.95 L418.20,138.31 L418.70,139.63 L419.20,140.91 L419.70,142.16 L420.20,143.37 L420.70,144.54 L421.20,145.68 L421.70,146.78 L422.20,147.85 L422.70,148.89 L423.20,149.89 L423.70,150.86 L424.20,151.80 L424.70,152.70 L425.20,153.58 L425.70,154.43 L426.20,155.25 L426.70,156.05 L427.20,156.81 L427.70,157.56 L428.20,158.27 L428.70,158.97 L429.20,159.64 L429.70,160.29 L430.20,160.91 L430.70,161.52 L431.20,162.10 L431.70,162.66 L432.20,163.21 L432.70,163.73 L433.20,164.24 L433.70,164.73 L434.20,165.21 L434.70,165.66 L435.20,166.10 L435.70,166.53 L436.20,166.94 L436.70,167.34 L437.20,167.72 L437.70,168.09 L438.20,168.44 L438.70,168.79 L439.20,169.12 L439.70,169.44 L440.20,169.74 L440.70,170.04 L441.20,170.32 L441.70,170.60 L442.20,170.86 L442.70,171.11 L443.20,171.36 L443.70,171.59 L444.20,171.81 L444.70,172.03 L445.20,172.24 L445.70,172.44 L446.20,172.63 L446.70,172.81 L447.20,172.99 L447.70,173.16 L448.20,173.32 L448.70,173.47 L449.20,173.62 L449.70,173.76 L450.20,173.90 L450.70,174.03 L451.20,174.15 L451.70,174.27 L452.20,174.38 L452.70,174.49 L453.20,174.59 L453.70,174.69 L454.20,174.78 L454.70,174.87 L455.20,174.95 L455.70,175.03 L456.20,175.11 L456.70,175.18 L457.20,175.25 L457.70,175.32 L458.20,175.38 L458.70,175.44 L459.20,175.50 L459.70,175.55 L460.20,175.60 L460.70,175.65 L461.20,175.69 L461.70,175.73 L462.20,175.78 L462.70,175.81 L463.20,175.85 L463.70,175.88 L464.20,175.92 L464.70,175.95 L465.20,175.98 L465.70,176.00 L466.20,176.03 L466.70,176.05 L467.20,176.07 L467.70,176.10 L468.20,176.12 L468.70,176.13 L469.20,176.15 L469.70,176.17 L470.20,176.18 L470.70,176.20 L471.20,176.21 L471.70,176.23 L472.20,176.24 L472.70,176.25 L473.20,176.26 L473.70,176.27 L474.20,176.28 L474.70,176.29 L475.20,176.29 L475.70,176.30 L476.20,176.31 L476.70,176.32 L477.20,176.32 L477.70,176.33 L478.20,176.33 L478.70,176.34 L479.20,176.34 L479.70,176.35 L480.20,176.35 L480.70,176.35 L481.20,176.36 L481.70,176.36 L482.20,176.36 L482.70,176.37 L483.20,176.37 L483.70,176.37 L484.20,176.37 L484.70,176.38 L485.20,176.38 L485.70,176.38 L486.20,176.38 L486.70,176.38 L487.20,176.38 L487.70,176.39 L488.20,176.39 L488.70,176.39 L489.20,176.39 L489.70,176.39 L490.20,176.39 L490.70,176.39 L491.20,176.39 L491.70,176.39 L492.20,176.39 L492.70,176.39 L493.20,176.39 L493.70,176.39 L494.20,176.40 L534.20,176.40" fill="none" stroke="#ff00ff" stroke-width="1.25"/>
<path d="M311.70,176.40 L347.20,176.40 L347.70,176.39 L348.20,176.39 L348.70,176.39 L349.20,176.39 L349.70,176.38 L350.20,176.38 L350.70,176.37 L351.20,176.36 L351.70,176.35 L352.20,176.34 L352.70,176.32 L353.20,176.30 L353.70,176.28 L354.20,176.25 L354.70,176.21 L355.20,176.16 L355.70,176.10 L356.20,176.03 L356.70,175.94 L357.20,175.84 L357.70,175.72 L358.20,175.57 L358.70,175.40 L359.20,175.19 L359.70,174.95 L360.20,174.66 L360.70,174.33 L361.20,173.95 L361.70,173.51 L362.20,173.00 L362.70,172.42 L363.20,171.76 L363.70,171.02 L364.20,170.17 L364.70,169.23 L365.20,168.17 L365.70,167.00 L366.20,165.69 L366.70,164.26 L367.20,162.68 L367.70,160.96 L368.20,159.08 L368.70,157.05 L369.20,154.86 L369.70,152.50 L370.20,149.98 L370.70,147.30 L371.20,144.46 L371.70,141.45 L372.20,138.30 L372.70,134.99 L373.20,131.55 L373.70,127.98 L374.20,124.29 L374.70,120.50 L375.20,116.62 L375.70,112.66 L376.20,108.64 L376.70,104.59 L377.20,100.51 L377.70,96.43 L378.20,92.37 L378.70,88.34 L379.20,84.37 L379.70,80.48 L380.20,76.68 L380.70,72.99 L381.20,69.43 L381.70,66.02 L382.20,62.76 L382.70,59.68 L383.20,56.79 L383.70,54.08 L384.20,51.58 L384.70,49.29 L385.20,47.20 L385.70,45.33 L386.20,43.67 L386.70,42.22 L387.20,40.98 L387.70,39.94 L388.20,39.08 L388.70,38.41 L389.20,37.90 L389.70,37.55 L390.20,37.33 L390.70,37.21 L391.20,37.18 L391.70,37.26 L392.20,37.56 L392.70,38.09 L393.20,38.84 L393.70,39.81 L394.20,40.97 L394.70,42.32 L395.20,43.84 L395.70,45.51 L396.20,47.32 L396.70,49.24 L397.20,51.27 L397.70,53.37 L398.20,55.55 L398.70,57.78 L399.20,60.05 L399.70,62.35 L400.20,64.67 L400.70,67.00 L401.20,69.33 L401.70,71.67 L402.20,73.99 L402.70,76.31 L403.20,78.62 L403.70,80.92 L404.20,83.21 L404.70,85.49 L405.20,87.76 L405.70,90.01 L406.20,92.25 L406.70,94.49 L407.20,96.71 L407.70,98.92 L408.20,101.12 L408.70,103.31 L409.20,105.48 L409.70,107.64 L410.20,109.78 L410.70,111.90 L411.20,114.01 L411.70,116.09 L412.20,118.15 L412.70,120.18 L413.20,122.19 L413.70,124.17 L414.20,126.12 L414.70,128.03 L415.20,129.91 L415.70,131.75 L416.20,133.56 L416.70,135.33 L417.20,137.05 L417.70,138.74 L418.20,140.38 L418.70,141.99 L419.20,143.54 L419.70,145.06 L420.20,146.52 L420.70,147.95 L421.20,149.32 L421.70,150.66 L422.20,151.95 L422.70,153.19 L423.20,154.39 L423.70,155.54 L424.20,156.65 L424.70,157.72 L425.20,158.74 L425.70,159.72 L426.20,160.66 L426.70,161.56 L427.20,162.42 L427.70,163.24 L428.20,164.03 L428.70,164.77 L429.20,165.48 L429.70,166.16 L430.20,166.80 L430.70,167.41 L431.20,167.99 L431.70,168.53 L432.20,169.05 L432.70,169.54 L433.20,170.00 L433.70,170.44 L434.20,170.85 L434.70,171.24 L435.20,171.60 L435.70,171.94 L436.20,172.26 L436.70,172.56 L437.20,172.85 L437.70,173.11 L438.20,173.36 L438.70,173.59 L439.20,173.80 L439.70,174.01 L440.20,174.19 L440.70,174.37 L441.20,174.53 L441.70,174.68 L442.20,174.82 L442.70,174.95 L443.20,175.07 L443.70,175.18 L444.20,175.28 L444.70,175.38 L445.20,175.47 L445.70,175.55 L446.20,175.62 L446.70,175.69 L447.20,175.75 L447.70,175.81 L448.20,175.87 L448.70,175.91 L449.20,175.96 L449.70,176.00 L450.20,176.04 L450.70,176.07 L451.20,176.10 L451.70,176.13 L452.20,176.16 L452.70,176.18 L453.20,176.20 L453.70,176.22 L454.20,176.24 L454.70,176.26 L455.20,176.27 L455.70,176.28 L456.20,176.30 L456.70,176.31 L457.20,176.32 L457.70,176.32 L458.20,176.33 L458.70,176.34 L459.20,176.35 L459.70,176.35 L460.20,176.36 L460.70,176.36 L461.20,176.37 L461.70,176.37 L462.20,176.37 L462.70,176.38 L463.20,176.38 L463.70,176.38 L464.20,176.38 L464.70,176.39 L465.20,176.39 L465.70,176.39 L466.20,176.39 L466.70,176.39 L467.20,176.39 L467.70,176.39 L468.20,176.39 L468.70,176.39 L469.20,176.40 L534.20,176.40" fill="none" stroke="#ff0000" stroke-width="1.25" stroke-dasharray="4.6,1.9"/>
<text class="r" x="311.70" y="189.25" text-anchor="middle" font-size="7.4" >1</text>
<text class="r" x="423.15" y="189.25" text-anchor="middle" font-size="7.4" >10</text>
<text class="r" x="534.60" y="189.25" text-anchor="middle" font-size="7.4" >100</text>
<text class="b" x="423.15" y="204.00" text-anchor="middle" font-size="7.4" >Size (hydrodynamic diameter, nm)</text>
<text transform="translate(290.40,98.15) rotate(-90)" class="b" text-anchor="middle" font-size="7.4">Volume distribution (%)</text>
<text class="b" x="311.50" y="12.90" text-anchor="start" font-size="8.9" >(b)</text>
<path d="M477.3,28.5 H496.2" stroke="#111" stroke-width="1.25"/>
<text class="r" x="501.00" y="31.30" text-anchor="start" font-size="7.4" >1% Dex</text>
<path d="M477.3,36.7 H496.2" stroke="#ff0000" stroke-width="1.25"/>
<text class="r" x="501.00" y="39.50" text-anchor="start" font-size="7.4" >3% Dex</text>
<path d="M477.3,45.1 H496.2" stroke="#0000ff" stroke-width="1.25"/>
<text class="r" x="501.00" y="47.90" text-anchor="start" font-size="7.4" >5% Dex</text>
<path d="M477.3,53.3 H496.2" stroke="#ff00ff" stroke-width="1.25"/>
<text class="r" x="501.00" y="56.10" text-anchor="start" font-size="7.4" >7% Dex</text>
<path d="M477.3,61.8 H496.2" stroke="#ff0000" stroke-width="1.25" stroke-dasharray="4.6,1.9"/>
<text class="r" x="501.00" y="64.60" text-anchor="start" font-size="7.4" >10% Dex</text>
<path d="M32.5,396.0 V237 H255.3 V396.0" fill="none" stroke="#3a3a3a" stroke-width="1"/>
<path d="M32.5,393.6 H255.3" fill="none" stroke="#3a3a3a" stroke-width="1"/>
<path d="M66.03,393.6 V392.0" stroke="#3a3a3a" stroke-width="0.9"/>
<path d="M85.65,393.6 V392.0" stroke="#3a3a3a" stroke-width="0.9"/>
<path d="M99.57,393.6 V392.0" stroke="#3a3a3a" stroke-width="0.9"/>
<path d="M110.37,393.6 V392.0" stroke="#3a3a3a" stroke-width="0.9"/>
<path d="M119.19,393.6 V392.0" stroke="#3a3a3a" stroke-width="0.9"/>
<path d="M126.64,393.6 V392.0" stroke="#3a3a3a" stroke-width="0.9"/>
<path d="M133.10,393.6 V392.0" stroke="#3a3a3a" stroke-width="0.9"/>
<path d="M138.80,393.6 V392.0" stroke="#3a3a3a" stroke-width="0.9"/>
<path d="M177.43,393.6 V392.0" stroke="#3a3a3a" stroke-width="0.9"/>
<path d="M197.05,393.6 V392.0" stroke="#3a3a3a" stroke-width="0.9"/>
<path d="M210.97,393.6 V392.0" stroke="#3a3a3a" stroke-width="0.9"/>
<path d="M221.77,393.6 V392.0" stroke="#3a3a3a" stroke-width="0.9"/>
<path d="M230.59,393.6 V392.0" stroke="#3a3a3a" stroke-width="0.9"/>
<path d="M238.04,393.6 V392.0" stroke="#3a3a3a" stroke-width="0.9"/>
<path d="M244.50,393.6 V392.0" stroke="#3a3a3a" stroke-width="0.9"/>
<path d="M250.20,393.6 V392.0" stroke="#3a3a3a" stroke-width="0.9"/>
<path d="M143.90,396.1 V391.1" stroke="#3a3a3a" stroke-width="1"/>
<path d="M30.0,393.60 H35.0" stroke="#3a3a3a" stroke-width="1"/>
<text class="r" x="26.80" y="396.25" text-anchor="end" font-size="7.4" >0</text>
<path d="M32.5,387.34 H34.1" stroke="#3a3a3a" stroke-width="0.9"/>
<path d="M32.5,381.09 H34.1" stroke="#3a3a3a" stroke-width="0.9"/>
<path d="M32.5,374.83 H34.1" stroke="#3a3a3a" stroke-width="0.9"/>
<path d="M32.5,368.58 H34.1" stroke="#3a3a3a" stroke-width="0.9"/>
<path d="M30.0,362.32 H35.0" stroke="#3a3a3a" stroke-width="1"/>
<text class="r" x="26.80" y="364.97" text-anchor="end" font-size="7.4" >5</text>
<path d="M32.5,356.06 H34.1" stroke="#3a3a3a" stroke-width="0.9"/>
<path d="M32.5,349.81 H34.1" stroke="#3a3a3a" stroke-width="0.9"/>
<path d="M32.5,343.55 H34.1" stroke="#3a3a3a" stroke-width="0.9"/>
<path d="M32.5,337.30 H34.1" stroke="#3a3a3a" stroke-width="0.9"/>
<path d="M30.0,331.04 H35.0" stroke="#3a3a3a" stroke-width="1"/>
<text class="r" x="26.80" y="333.69" text-anchor="end" font-size="7.4" >10</text>
<path d="M32.5,324.78 H34.1" stroke="#3a3a3a" stroke-width="0.9"/>
<path d="M32.5,318.53 H34.1" stroke="#3a3a3a" stroke-width="0.9"/>
<path d="M32.5,312.27 H34.1" stroke="#3a3a3a" stroke-width="0.9"/>
<path d="M32.5,306.02 H34.1" stroke="#3a3a3a" stroke-width="0.9"/>
<path d="M30.0,299.76 H35.0" stroke="#3a3a3a" stroke-width="1"/>
<text class="r" x="26.80" y="302.41" text-anchor="end" font-size="7.4" >15</text>
<path d="M32.5,293.50 H34.1" stroke="#3a3a3a" stroke-width="0.9"/>
<path d="M32.5,287.25 H34.1" stroke="#3a3a3a" stroke-width="0.9"/>
<path d="M32.5,280.99 H34.1" stroke="#3a3a3a" stroke-width="0.9"/>
<path d="M32.5,274.74 H34.1" stroke="#3a3a3a" stroke-width="0.9"/>
<path d="M30.0,268.48 H35.0" stroke="#3a3a3a" stroke-width="1"/>
<text class="r" x="26.80" y="271.13" text-anchor="end" font-size="7.4" >20</text>
<path d="M32.5,262.22 H34.1" stroke="#3a3a3a" stroke-width="0.9"/>
<path d="M32.5,255.97 H34.1" stroke="#3a3a3a" stroke-width="0.9"/>
<path d="M32.5,249.71 H34.1" stroke="#3a3a3a" stroke-width="0.9"/>
<path d="M32.5,243.46 H34.1" stroke="#3a3a3a" stroke-width="0.9"/>
<path d="M30.0,237.20 H35.0" stroke="#3a3a3a" stroke-width="1"/>
<text class="r" x="26.80" y="239.85" text-anchor="end" font-size="7.4" >25</text>
<path d="M32.50,393.60 L56.50,393.60 L57.00,393.59 L57.50,393.59 L58.00,393.59 L58.50,393.59 L59.00,393.58 L59.50,393.58 L60.00,393.57 L60.50,393.56 L61.00,393.55 L61.50,393.54 L62.00,393.52 L62.50,393.50 L63.00,393.48 L63.50,393.45 L64.00,393.41 L64.50,393.36 L65.00,393.31 L65.50,393.24 L66.00,393.16 L66.50,393.07 L67.00,392.95 L67.50,392.81 L68.00,392.65 L68.50,392.46 L69.00,392.23 L69.50,391.97 L70.00,391.66 L70.50,391.30 L71.00,390.89 L71.50,390.42 L72.00,389.87 L72.50,389.26 L73.00,388.55 L73.50,387.76 L74.00,386.86 L74.50,385.85 L75.00,384.73 L75.50,383.48 L76.00,382.10 L76.50,380.57 L77.00,378.89 L77.50,377.05 L78.00,375.05 L78.50,372.87 L79.00,370.52 L79.50,367.99 L80.00,365.28 L80.50,362.39 L81.00,359.31 L81.50,356.06 L82.00,352.63 L82.50,349.04 L83.00,345.28 L83.50,341.38 L84.00,337.33 L84.50,333.17 L85.00,328.89 L85.50,324.52 L86.00,320.08 L86.50,315.59 L87.00,311.07 L87.50,306.54 L88.00,302.03 L88.50,297.56 L89.00,293.15 L89.50,288.83 L90.00,284.63 L90.50,280.56 L91.00,276.64 L91.50,272.91 L92.00,269.37 L92.50,266.04 L93.00,262.95 L93.50,260.10 L94.00,257.51 L94.50,255.18 L95.00,253.11 L95.50,251.32 L96.00,249.80 L96.50,248.55 L97.00,247.56 L97.50,246.82 L98.00,246.31 L98.50,246.02 L99.00,245.90 L99.50,245.94 L100.00,246.22 L100.50,246.74 L101.00,247.50 L101.50,248.51 L102.00,249.74 L102.50,251.20 L103.00,252.88 L103.50,254.75 L104.00,256.82 L104.50,259.06 L105.00,261.47 L105.50,264.03 L106.00,266.72 L106.50,269.54 L107.00,272.46 L107.50,275.47 L108.00,278.57 L108.50,281.72 L109.00,284.92 L109.50,288.16 L110.00,291.43 L110.50,294.71 L111.00,297.99 L111.50,301.27 L112.00,304.53 L112.50,307.76 L113.00,310.96 L113.50,314.13 L114.00,317.25 L114.50,320.31 L115.00,323.33 L115.50,326.28 L116.00,329.17 L116.50,332.00 L117.00,334.76 L117.50,337.45 L118.00,340.06 L118.50,342.61 L119.00,345.08 L119.50,347.47 L120.00,349.79 L120.50,352.04 L121.00,354.21 L121.50,356.30 L122.00,358.32 L122.50,360.26 L123.00,362.13 L123.50,363.93 L124.00,365.65 L124.50,367.30 L125.00,368.89 L125.50,370.40 L126.00,371.84 L126.50,373.21 L127.00,374.52 L127.50,375.77 L128.00,376.95 L128.50,378.08 L129.00,379.14 L129.50,380.15 L130.00,381.10 L130.50,381.99 L131.00,382.84 L131.50,383.64 L132.00,384.38 L132.50,385.08 L133.00,385.74 L133.50,386.36 L134.00,386.93 L134.50,387.47 L135.00,387.97 L135.50,388.43 L136.00,388.87 L136.50,389.27 L137.00,389.64 L137.50,389.98 L138.00,390.30 L138.50,390.60 L139.00,390.87 L139.50,391.12 L140.00,391.35 L140.50,391.56 L141.00,391.75 L141.50,391.93 L142.00,392.09 L142.50,392.24 L143.00,392.37 L143.50,392.49 L144.00,392.61 L144.50,392.71 L145.00,392.80 L145.50,392.88 L146.00,392.96 L146.50,393.03 L147.00,393.09 L147.50,393.14 L148.00,393.19 L148.50,393.24 L149.00,393.28 L149.50,393.32 L150.00,393.35 L150.50,393.38 L151.00,393.40 L151.50,393.43 L152.00,393.45 L152.50,393.46 L153.00,393.48 L153.50,393.50 L154.00,393.51 L154.50,393.52 L155.00,393.53 L155.50,393.54 L156.00,393.55 L156.50,393.55 L157.00,393.56 L157.50,393.56 L158.00,393.57 L158.50,393.57 L159.00,393.58 L159.50,393.58 L160.00,393.58 L160.50,393.58 L161.00,393.59 L161.50,393.59 L162.00,393.59 L162.50,393.59 L163.00,393.59 L163.50,393.59 L164.00,393.59 L164.50,393.60 L255.00,393.60" fill="none" stroke="#111" stroke-width="1.25"/>
<path d="M32.50,393.60 L57.00,393.60 L57.50,393.59 L58.00,393.59 L58.50,393.59 L59.00,393.59 L59.50,393.58 L60.00,393.58 L60.50,393.57 L61.00,393.56 L61.50,393.55 L62.00,393.54 L62.50,393.52 L63.00,393.50 L63.50,393.47 L64.00,393.44 L64.50,393.40 L65.00,393.35 L65.50,393.29 L66.00,393.22 L66.50,393.13 L67.00,393.02 L67.50,392.89 L68.00,392.74 L68.50,392.56 L69.00,392.34 L69.50,392.09 L70.00,391.80 L70.50,391.45 L71.00,391.05 L71.50,390.59 L72.00,390.05 L72.50,389.44 L73.00,388.75 L73.50,387.95 L74.00,387.06 L74.50,386.05 L75.00,384.92 L75.50,383.66 L76.00,382.26 L76.50,380.72 L77.00,379.01 L77.50,377.14 L78.00,375.11 L78.50,372.89 L79.00,370.50 L79.50,367.92 L80.00,365.15 L80.50,362.20 L81.00,359.06 L81.50,355.74 L82.00,352.25 L82.50,348.58 L83.00,344.76 L83.50,340.79 L84.00,336.68 L84.50,332.46 L85.00,328.14 L85.50,323.73 L86.00,319.26 L86.50,314.75 L87.00,310.22 L87.50,305.70 L88.00,301.21 L88.50,296.78 L89.00,292.43 L89.50,288.18 L90.00,284.07 L90.50,280.10 L91.00,276.31 L91.50,272.71 L92.00,269.32 L92.50,266.16 L93.00,263.24 L93.50,260.57 L94.00,258.17 L94.50,256.02 L95.00,254.15 L95.50,252.55 L96.00,251.21 L96.50,250.13 L97.00,249.30 L97.50,248.71 L98.00,248.33 L98.50,248.13 L99.00,248.09 L99.50,248.20 L100.00,248.54 L100.50,249.10 L101.00,249.89 L101.50,250.89 L102.00,252.09 L102.50,253.50 L103.00,255.10 L103.50,256.88 L104.00,258.83 L104.50,260.95 L105.00,263.21 L105.50,265.60 L106.00,268.12 L106.50,270.74 L107.00,273.46 L107.50,276.27 L108.00,279.15 L108.50,282.08 L109.00,285.06 L109.50,288.08 L110.00,291.13 L110.50,294.19 L111.00,297.25 L111.50,300.32 L112.00,303.37 L112.50,306.41 L113.00,309.42 L113.50,312.41 L114.00,315.36 L114.50,318.27 L115.00,321.13 L115.50,323.95 L116.00,326.72 L116.50,329.43 L117.00,332.09 L117.50,334.69 L118.00,337.23 L118.50,339.71 L119.00,342.13 L119.50,344.48 L120.00,346.77 L120.50,348.99 L121.00,351.14 L121.50,353.23 L122.00,355.26 L122.50,357.22 L123.00,359.11 L123.50,360.93 L124.00,362.69 L124.50,364.39 L125.00,366.02 L125.50,367.58 L126.00,369.08 L126.50,370.52 L127.00,371.90 L127.50,373.21 L128.00,374.47 L128.50,375.67 L129.00,376.81 L129.50,377.89 L130.00,378.92 L130.50,379.90 L131.00,380.83 L131.50,381.70 L132.00,382.53 L132.50,383.31 L133.00,384.05 L133.50,384.75 L134.00,385.40 L134.50,386.01 L135.00,386.59 L135.50,387.12 L136.00,387.63 L136.50,388.10 L137.00,388.54 L137.50,388.95 L138.00,389.33 L138.50,389.68 L139.00,390.01 L139.50,390.31 L140.00,390.60 L140.50,390.86 L141.00,391.10 L141.50,391.32 L142.00,391.52 L142.50,391.71 L143.00,391.89 L143.50,392.05 L144.00,392.19 L144.50,392.32 L145.00,392.45 L145.50,392.56 L146.00,392.66 L146.50,392.75 L147.00,392.84 L147.50,392.91 L148.00,392.98 L148.50,393.05 L149.00,393.10 L149.50,393.16 L150.00,393.20 L150.50,393.25 L151.00,393.28 L151.50,393.32 L152.00,393.35 L152.50,393.38 L153.00,393.40 L153.50,393.42 L154.00,393.44 L154.50,393.46 L155.00,393.48 L155.50,393.49 L156.00,393.50 L156.50,393.52 L157.00,393.53 L157.50,393.53 L158.00,393.54 L158.50,393.55 L159.00,393.56 L159.50,393.56 L160.00,393.57 L160.50,393.57 L161.00,393.57 L161.50,393.58 L162.00,393.58 L162.50,393.58 L163.00,393.59 L163.50,393.59 L164.00,393.59 L164.50,393.59 L165.00,393.59 L165.50,393.59 L166.00,393.59 L166.50,393.59 L167.00,393.60 L255.00,393.60" fill="none" stroke="#ff0000" stroke-width="1.25"/>
<path d="M32.50,393.60 L57.50,393.60 L58.00,393.59 L58.50,393.59 L59.00,393.59 L59.50,393.58 L60.00,393.58 L60.50,393.57 L61.00,393.56 L61.50,393.55 L62.00,393.54 L62.50,393.52 L63.00,393.50 L63.50,393.47 L64.00,393.43 L64.50,393.38 L65.00,393.32 L65.50,393.25 L66.00,393.16 L66.50,393.05 L67.00,392.92 L67.50,392.76 L68.00,392.57 L68.50,392.34 L69.00,392.07 L69.50,391.75 L70.00,391.37 L70.50,390.93 L71.00,390.42 L71.50,389.83 L72.00,389.15 L72.50,388.38 L73.00,387.50 L73.50,386.51 L74.00,385.39 L74.50,384.14 L75.00,382.75 L75.50,381.20 L76.00,379.50 L76.50,377.64 L77.00,375.61 L77.50,373.40 L78.00,371.02 L78.50,368.46 L79.00,365.73 L79.50,362.82 L80.00,359.75 L80.50,356.51 L81.00,353.12 L81.50,349.59 L82.00,345.92 L82.50,342.15 L83.00,338.27 L83.50,334.31 L84.00,330.28 L84.50,326.22 L85.00,322.13 L85.50,318.05 L86.00,313.98 L86.50,309.96 L87.00,306.01 L87.50,302.15 L88.00,298.40 L88.50,294.78 L89.00,291.30 L89.50,287.99 L90.00,284.86 L90.50,281.92 L91.00,279.18 L91.50,276.66 L92.00,274.35 L92.50,272.26 L93.00,270.40 L93.50,268.76 L94.00,267.33 L94.50,266.12 L95.00,265.11 L95.50,264.30 L96.00,263.67 L96.50,263.21 L97.00,262.89 L97.50,262.70 L98.00,262.62 L98.50,262.60 L99.00,262.68 L99.50,262.92 L100.00,263.33 L100.50,263.89 L101.00,264.61 L101.50,265.48 L102.00,266.49 L102.50,267.65 L103.00,268.94 L103.50,270.37 L104.00,271.91 L104.50,273.57 L105.00,275.34 L105.50,277.20 L106.00,279.16 L106.50,281.20 L107.00,283.31 L107.50,285.50 L108.00,287.74 L108.50,290.03 L109.00,292.37 L109.50,294.75 L110.00,297.16 L110.50,299.59 L111.00,302.04 L111.50,304.50 L112.00,306.97 L112.50,309.45 L113.00,311.92 L113.50,314.38 L114.00,316.83 L114.50,319.26 L115.00,321.68 L115.50,324.08 L116.00,326.45 L116.50,328.79 L117.00,331.11 L117.50,333.39 L118.00,335.63 L118.50,337.84 L119.00,340.01 L119.50,342.14 L120.00,344.22 L120.50,346.26 L121.00,348.26 L121.50,350.21 L122.00,352.11 L122.50,353.97 L123.00,355.77 L123.50,357.53 L124.00,359.23 L124.50,360.89 L125.00,362.49 L125.50,364.04 L126.00,365.54 L126.50,366.99 L127.00,368.39 L127.50,369.73 L128.00,371.03 L128.50,372.27 L129.00,373.47 L129.50,374.61 L130.00,375.71 L130.50,376.76 L131.00,377.76 L131.50,378.72 L132.00,379.63 L132.50,380.50 L133.00,381.33 L133.50,382.11 L134.00,382.86 L134.50,383.57 L135.00,384.23 L135.50,384.87 L136.00,385.46 L136.50,386.03 L137.00,386.56 L137.50,387.06 L138.00,387.53 L138.50,387.97 L139.00,388.39 L139.50,388.78 L140.00,389.14 L140.50,389.48 L141.00,389.80 L141.50,390.10 L142.00,390.37 L142.50,390.63 L143.00,390.87 L143.50,391.09 L144.00,391.30 L144.50,391.49 L145.00,391.67 L145.50,391.83 L146.00,391.99 L146.50,392.13 L147.00,392.26 L147.50,392.37 L148.00,392.48 L148.50,392.58 L149.00,392.68 L149.50,392.76 L150.00,392.84 L150.50,392.91 L151.00,392.98 L151.50,393.04 L152.00,393.09 L152.50,393.14 L153.00,393.19 L153.50,393.23 L154.00,393.26 L154.50,393.30 L155.00,393.33 L155.50,393.36 L156.00,393.38 L156.50,393.40 L157.00,393.42 L157.50,393.44 L158.00,393.46 L158.50,393.47 L159.00,393.49 L159.50,393.50 L160.00,393.51 L160.50,393.52 L161.00,393.53 L161.50,393.54 L162.00,393.55 L162.50,393.55 L163.00,393.56 L163.50,393.56 L164.00,393.57 L164.50,393.57 L165.00,393.57 L165.50,393.58 L166.00,393.58 L166.50,393.58 L167.00,393.58 L167.50,393.59 L168.00,393.59 L168.50,393.59 L169.00,393.59 L169.50,393.59 L170.00,393.59 L170.50,393.59 L171.00,393.59 L171.50,393.60 L255.00,393.60" fill="none" stroke="#0000ff" stroke-width="1.25"/>
<path d="M32.50,393.60 L63.50,393.60 L64.00,393.59 L64.50,393.59 L65.00,393.59 L65.50,393.58 L66.00,393.57 L66.50,393.56 L67.00,393.55 L67.50,393.53 L68.00,393.50 L68.50,393.47 L69.00,393.42 L69.50,393.36 L70.00,393.28 L70.50,393.18 L71.00,393.06 L71.50,392.90 L72.00,392.70 L72.50,392.46 L73.00,392.16 L73.50,391.79 L74.00,391.35 L74.50,390.82 L75.00,390.19 L75.50,389.44 L76.00,388.57 L76.50,387.55 L77.00,386.38 L77.50,385.03 L78.00,383.49 L78.50,381.76 L79.00,379.82 L79.50,377.65 L80.00,375.25 L80.50,372.62 L81.00,369.74 L81.50,366.63 L82.00,363.28 L82.50,359.70 L83.00,355.90 L83.50,351.89 L84.00,347.69 L84.50,343.33 L85.00,338.81 L85.50,334.18 L86.00,329.46 L86.50,324.67 L87.00,319.86 L87.50,315.05 L88.00,310.27 L88.50,305.57 L89.00,300.97 L89.50,296.50 L90.00,292.19 L90.50,288.07 L91.00,284.16 L91.50,280.48 L92.00,277.05 L92.50,273.88 L93.00,270.98 L93.50,268.36 L94.00,266.01 L94.50,263.95 L95.00,262.15 L95.50,260.62 L96.00,259.35 L96.50,258.31 L97.00,257.49 L97.50,256.87 L98.00,256.43 L98.50,256.15 L99.00,255.99 L99.50,255.92 L100.00,255.91 L100.50,255.98 L101.00,256.22 L101.50,256.61 L102.00,257.16 L102.50,257.86 L103.00,258.72 L103.50,259.72 L104.00,260.86 L104.50,262.15 L105.00,263.56 L105.50,265.11 L106.00,266.79 L106.50,268.58 L107.00,270.48 L107.50,272.49 L108.00,274.60 L108.50,276.81 L109.00,279.09 L109.50,281.46 L110.00,283.89 L110.50,286.39 L111.00,288.95 L111.50,291.55 L112.00,294.19 L112.50,296.87 L113.00,299.57 L113.50,302.30 L114.00,305.03 L114.50,307.77 L115.00,310.51 L115.50,313.25 L116.00,315.97 L116.50,318.67 L117.00,321.35 L117.50,324.00 L118.00,326.62 L118.50,329.20 L119.00,331.74 L119.50,334.23 L120.00,336.67 L120.50,339.07 L121.00,341.41 L121.50,343.69 L122.00,345.92 L122.50,348.08 L123.00,350.19 L123.50,352.23 L124.00,354.21 L124.50,356.13 L125.00,357.98 L125.50,359.77 L126.00,361.49 L126.50,363.15 L127.00,364.75 L127.50,366.28 L128.00,367.76 L128.50,369.17 L129.00,370.52 L129.50,371.81 L130.00,373.05 L130.50,374.23 L131.00,375.35 L131.50,376.43 L132.00,377.45 L132.50,378.42 L133.00,379.34 L133.50,380.22 L134.00,381.05 L134.50,381.84 L135.00,382.58 L135.50,383.29 L136.00,383.95 L136.50,384.59 L137.00,385.18 L137.50,385.74 L138.00,386.27 L138.50,386.77 L139.00,387.24 L139.50,387.68 L140.00,388.09 L140.50,388.48 L141.00,388.84 L141.50,389.18 L142.00,389.50 L142.50,389.80 L143.00,390.08 L143.50,390.34 L144.00,390.59 L144.50,390.82 L145.00,391.03 L145.50,391.23 L146.00,391.41 L146.50,391.58 L147.00,391.74 L147.50,391.89 L148.00,392.03 L148.50,392.15 L149.00,392.27 L149.50,392.38 L150.00,392.48 L150.50,392.58 L151.00,392.66 L151.50,392.74 L152.00,392.82 L152.50,392.88 L153.00,392.95 L153.50,393.00 L154.00,393.06 L154.50,393.11 L155.00,393.15 L155.50,393.19 L156.00,393.23 L156.50,393.26 L157.00,393.29 L157.50,393.32 L158.00,393.35 L158.50,393.37 L159.00,393.39 L159.50,393.41 L160.00,393.43 L160.50,393.45 L161.00,393.46 L161.50,393.48 L162.00,393.49 L162.50,393.50 L163.00,393.51 L163.50,393.52 L164.00,393.53 L164.50,393.54 L165.00,393.54 L165.50,393.55 L166.00,393.55 L166.50,393.56 L167.00,393.56 L167.50,393.57 L168.00,393.57 L168.50,393.57 L169.00,393.58 L169.50,393.58 L170.00,393.58 L170.50,393.58 L171.00,393.59 L171.50,393.59 L172.00,393.59 L172.50,393.59 L173.00,393.59 L173.50,393.59 L174.00,393.59 L174.50,393.59 L175.00,393.59 L175.50,393.60 L255.00,393.60" fill="none" stroke="#ff00ff" stroke-width="1.25"/>
<path d="M32.50,393.60 L58.50,393.60 L59.00,393.59 L59.50,393.59 L60.00,393.59 L60.50,393.59 L61.00,393.58 L61.50,393.57 L62.00,393.56 L62.50,393.55 L63.00,393.53 L63.50,393.51 L64.00,393.48 L64.50,393.45 L65.00,393.40 L65.50,393.34 L66.00,393.27 L66.50,393.18 L67.00,393.07 L67.50,392.94 L68.00,392.77 L68.50,392.57 L69.00,392.32 L69.50,392.03 L70.00,391.69 L70.50,391.28 L71.00,390.79 L71.50,390.23 L72.00,389.58 L72.50,388.83 L73.00,387.96 L73.50,386.98 L74.00,385.87 L74.50,384.61 L75.00,383.21 L75.50,381.65 L76.00,379.92 L76.50,378.01 L77.00,375.93 L77.50,373.67 L78.00,371.22 L78.50,368.58 L79.00,365.77 L79.50,362.77 L80.00,359.60 L80.50,356.27 L81.00,352.78 L81.50,349.16 L82.00,345.40 L82.50,341.54 L83.00,337.60 L83.50,333.58 L84.00,329.51 L84.50,325.42 L85.00,321.33 L85.50,317.26 L86.00,313.23 L86.50,309.28 L87.00,305.41 L87.50,301.66 L88.00,298.03 L88.50,294.56 L89.00,291.26 L89.50,288.13 L90.00,285.20 L90.50,282.48 L91.00,279.96 L91.50,277.66 L92.00,275.59 L92.50,273.73 L93.00,272.09 L93.50,270.66 L94.00,269.44 L94.50,268.41 L95.00,267.58 L95.50,266.91 L96.00,266.41 L96.50,266.05 L97.00,265.81 L97.50,265.67 L98.00,265.61 L98.50,265.60 L99.00,265.67 L99.50,265.89 L100.00,266.25 L100.50,266.74 L101.00,267.38 L101.50,268.15 L102.00,269.06 L102.50,270.09 L103.00,271.25 L103.50,272.53 L104.00,273.93 L104.50,275.44 L105.00,277.05 L105.50,278.76 L106.00,280.56 L106.50,282.45 L107.00,284.42 L107.50,286.46 L108.00,288.56 L108.50,290.73 L109.00,292.94 L109.50,295.20 L110.00,297.50 L110.50,299.84 L111.00,302.19 L111.50,304.57 L112.00,306.96 L112.50,309.35 L113.00,311.75 L113.50,314.14 L114.00,316.53 L114.50,318.90 L115.00,321.25 L115.50,323.58 L116.00,325.88 L116.50,328.15 L117.00,330.39 L117.50,332.59 L118.00,334.76 L118.50,336.89 L119.00,338.97 L119.50,341.00 L120.00,343.00 L120.50,344.94 L121.00,346.84 L121.50,348.68 L122.00,350.48 L122.50,352.23 L123.00,353.93 L123.50,355.58 L124.00,357.18 L124.50,358.73 L125.00,360.23 L125.50,361.68 L126.00,363.08 L126.50,364.44 L127.00,365.75 L127.50,367.02 L128.00,368.24 L128.50,369.41 L129.00,370.54 L129.50,371.63 L130.00,372.68 L130.50,373.69 L131.00,374.66 L131.50,375.60 L132.00,376.49 L132.50,377.35 L133.00,378.17 L133.50,378.97 L134.00,379.72 L134.50,380.45 L135.00,381.14 L135.50,381.81 L136.00,382.44 L136.50,383.05 L137.00,383.63 L137.50,384.18 L138.00,384.71 L138.50,385.22 L139.00,385.70 L139.50,386.15 L140.00,386.59 L140.50,387.00 L141.00,387.39 L141.50,387.77 L142.00,388.12 L142.50,388.46 L143.00,388.78 L143.50,389.08 L144.00,389.36 L144.50,389.63 L145.00,389.89 L145.50,390.13 L146.00,390.36 L146.50,390.57 L147.00,390.78 L147.50,390.97 L148.00,391.15 L148.50,391.32 L149.00,391.48 L149.50,391.62 L150.00,391.76 L150.50,391.90 L151.00,392.02 L151.50,392.13 L152.00,392.24 L152.50,392.34 L153.00,392.44 L153.50,392.52 L154.00,392.61 L154.50,392.68 L155.00,392.75 L155.50,392.82 L156.00,392.88 L156.50,392.94 L157.00,392.99 L157.50,393.04 L158.00,393.09 L158.50,393.13 L159.00,393.17 L159.50,393.20 L160.00,393.24 L160.50,393.27 L161.00,393.29 L161.50,393.32 L162.00,393.35 L162.50,393.37 L163.00,393.39 L163.50,393.41 L164.00,393.42 L164.50,393.44 L165.00,393.45 L165.50,393.47 L166.00,393.48 L166.50,393.49 L167.00,393.50 L167.50,393.51 L168.00,393.52 L168.50,393.53 L169.00,393.53 L169.50,393.54 L170.00,393.55 L170.50,393.55 L171.00,393.56 L171.50,393.56 L172.00,393.56 L172.50,393.57 L173.00,393.57 L173.50,393.57 L174.00,393.58 L174.50,393.58 L175.00,393.58 L175.50,393.58 L176.00,393.58 L176.50,393.59 L177.00,393.59 L177.50,393.59 L178.00,393.59 L178.50,393.59 L179.00,393.59 L179.50,393.59 L180.00,393.59 L180.50,393.59 L181.00,393.60 L255.00,393.60" fill="none" stroke="#28962a" stroke-width="1.25"/>
<path d="M158.6,393.50 H165.2" stroke="#ff00ff" stroke-width="1.25"/>
<text class="r" x="32.50" y="406.45" text-anchor="middle" font-size="7.4" >1</text>
<text class="r" x="143.90" y="406.45" text-anchor="middle" font-size="7.4" >10</text>
<text class="r" x="255.30" y="406.45" text-anchor="middle" font-size="7.4" >100</text>
<text class="b" x="143.90" y="420.50" text-anchor="middle" font-size="7.4" >Size (hydrodynamic diameter, nm)</text>
<text transform="translate(11.20,315.40) rotate(-90)" class="b" text-anchor="middle" font-size="7.4">Volume distribution (%)</text>
<text class="b" x="31.70" y="227.60" text-anchor="start" font-size="8.9" >(c)</text>
<path d="M196.6,246.5 H213.8" stroke="#111" stroke-width="1.25"/>
<text class="r" x="218.20" y="249.30" text-anchor="start" font-size="7.4" >1% Ucon</text>
<path d="M196.6,254.6 H213.8" stroke="#ff0000" stroke-width="1.25"/>
<text class="r" x="218.20" y="257.40" text-anchor="start" font-size="7.4" >3% Ucon</text>
<path d="M196.6,262.8 H213.8" stroke="#0000ff" stroke-width="1.25"/>
<text class="r" x="218.20" y="265.60" text-anchor="start" font-size="7.4" >5% Ucon</text>
<path d="M196.6,271.0 H213.8" stroke="#ff00ff" stroke-width="1.25"/>
<text class="r" x="218.20" y="273.80" text-anchor="start" font-size="7.4" >7% Ucon</text>
<path d="M196.6,279.4 H213.8" stroke="#28962a" stroke-width="1.25"/>
<text class="r" x="218.20" y="282.20" text-anchor="start" font-size="7.4" >10% Ucon</text>
<path d="M311.7,397.9 V239 H534.5 V397.9" fill="none" stroke="#3a3a3a" stroke-width="1"/>
<path d="M311.7,395.5 H534.5" fill="none" stroke="#3a3a3a" stroke-width="1"/>
<path d="M345.23,395.5 V393.9" stroke="#3a3a3a" stroke-width="0.9"/>
<path d="M364.85,395.5 V393.9" stroke="#3a3a3a" stroke-width="0.9"/>
<path d="M378.77,395.5 V393.9" stroke="#3a3a3a" stroke-width="0.9"/>
<path d="M389.57,395.5 V393.9" stroke="#3a3a3a" stroke-width="0.9"/>
<path d="M398.39,395.5 V393.9" stroke="#3a3a3a" stroke-width="0.9"/>
<path d="M405.84,395.5 V393.9" stroke="#3a3a3a" stroke-width="0.9"/>
<path d="M412.30,395.5 V393.9" stroke="#3a3a3a" stroke-width="0.9"/>
<path d="M418.00,395.5 V393.9" stroke="#3a3a3a" stroke-width="0.9"/>
<path d="M456.63,395.5 V393.9" stroke="#3a3a3a" stroke-width="0.9"/>
<path d="M476.25,395.5 V393.9" stroke="#3a3a3a" stroke-width="0.9"/>
<path d="M490.17,395.5 V393.9" stroke="#3a3a3a" stroke-width="0.9"/>
<path d="M500.97,395.5 V393.9" stroke="#3a3a3a" stroke-width="0.9"/>
<path d="M509.79,395.5 V393.9" stroke="#3a3a3a" stroke-width="0.9"/>
<path d="M517.24,395.5 V393.9" stroke="#3a3a3a" stroke-width="0.9"/>
<path d="M523.70,395.5 V393.9" stroke="#3a3a3a" stroke-width="0.9"/>
<path d="M529.40,395.5 V393.9" stroke="#3a3a3a" stroke-width="0.9"/>
<path d="M423.10,398.0 V393.0" stroke="#3a3a3a" stroke-width="1"/>
<path d="M309.2,395.50 H314.2" stroke="#3a3a3a" stroke-width="1"/>
<text class="r" x="306.00" y="398.15" text-anchor="end" font-size="7.4" >0</text>
<path d="M311.7,387.69 H313.3" stroke="#3a3a3a" stroke-width="0.9"/>
<path d="M311.7,379.88 H313.3" stroke="#3a3a3a" stroke-width="0.9"/>
<path d="M311.7,372.07 H313.3" stroke="#3a3a3a" stroke-width="0.9"/>
<path d="M311.7,364.26 H313.3" stroke="#3a3a3a" stroke-width="0.9"/>
<path d="M309.2,356.45 H314.2" stroke="#3a3a3a" stroke-width="1"/>
<text class="r" x="306.00" y="359.10" text-anchor="end" font-size="7.4" >5</text>
<path d="M311.7,348.64 H313.3" stroke="#3a3a3a" stroke-width="0.9"/>
<path d="M311.7,340.83 H313.3" stroke="#3a3a3a" stroke-width="0.9"/>
<path d="M311.7,333.02 H313.3" stroke="#3a3a3a" stroke-width="0.9"/>
<path d="M311.7,325.21 H313.3" stroke="#3a3a3a" stroke-width="0.9"/>
<path d="M309.2,317.40 H314.2" stroke="#3a3a3a" stroke-width="1"/>
<text class="r" x="306.00" y="320.05" text-anchor="end" font-size="7.4" >10</text>
<path d="M311.7,309.59 H313.3" stroke="#3a3a3a" stroke-width="0.9"/>
<path d="M311.7,301.78 H313.3" stroke="#3a3a3a" stroke-width="0.9"/>
<path d="M311.7,293.97 H313.3" stroke="#3a3a3a" stroke-width="0.9"/>
<path d="M311.7,286.16 H313.3" stroke="#3a3a3a" stroke-width="0.9"/>
<path d="M309.2,278.35 H314.2" stroke="#3a3a3a" stroke-width="1"/>
<text class="r" x="306.00" y="281.00" text-anchor="end" font-size="7.4" >15</text>
<path d="M311.7,270.54 H313.3" stroke="#3a3a3a" stroke-width="0.9"/>
<path d="M311.7,262.73 H313.3" stroke="#3a3a3a" stroke-width="0.9"/>
<path d="M311.7,254.92 H313.3" stroke="#3a3a3a" stroke-width="0.9"/>
<path d="M311.7,247.11 H313.3" stroke="#3a3a3a" stroke-width="0.9"/>
<path d="M309.2,239.30 H314.2" stroke="#3a3a3a" stroke-width="1"/>
<text class="r" x="306.00" y="241.95" text-anchor="end" font-size="7.4" >20</text>
<path d="M311.70,395.50 L355.70,395.50 L356.20,395.49 L356.70,395.49 L357.20,395.49 L357.70,395.49 L358.20,395.48 L358.70,395.48 L359.20,395.47 L359.70,395.47 L360.20,395.46 L360.70,395.45 L361.20,395.44 L361.70,395.42 L362.20,395.41 L362.70,395.38 L363.20,395.36 L363.70,395.32 L364.20,395.29 L364.70,395.24 L365.20,395.19 L365.70,395.12 L366.20,395.05 L366.70,394.96 L367.20,394.85 L367.70,394.73 L368.20,394.59 L368.70,394.42 L369.20,394.23 L369.70,394.01 L370.20,393.76 L370.70,393.48 L371.20,393.15 L371.70,392.78 L372.20,392.37 L372.70,391.90 L373.20,391.38 L373.70,390.79 L374.20,390.13 L374.70,389.41 L375.20,388.61 L375.70,387.73 L376.20,386.76 L376.70,385.70 L377.20,384.54 L377.70,383.28 L378.20,381.92 L378.70,380.45 L379.20,378.87 L379.70,377.18 L380.20,375.37 L380.70,373.45 L381.20,371.41 L381.70,369.25 L382.20,366.98 L382.70,364.59 L383.20,362.09 L383.70,359.49 L384.20,356.78 L384.70,353.98 L385.20,351.08 L385.70,348.11 L386.20,345.05 L386.70,341.94 L387.20,338.76 L387.70,335.55 L388.20,332.29 L388.70,329.02 L389.20,325.73 L389.70,322.44 L390.20,319.17 L390.70,315.92 L391.20,312.71 L391.70,309.56 L392.20,306.46 L392.70,303.44 L393.20,300.50 L393.70,297.66 L394.20,294.93 L394.70,292.31 L395.20,289.81 L395.70,287.44 L396.20,285.21 L396.70,283.12 L397.20,281.18 L397.70,279.38 L398.20,277.74 L398.70,276.25 L399.20,274.91 L399.70,273.72 L400.20,272.68 L400.70,271.78 L401.20,271.02 L401.70,270.39 L402.20,269.89 L402.70,269.51 L403.20,269.23 L403.70,269.05 L404.20,268.94 L404.70,268.90 L405.20,268.91 L405.70,268.99 L406.20,269.17 L406.70,269.44 L407.20,269.81 L407.70,270.27 L408.20,270.81 L408.70,271.45 L409.20,272.17 L409.70,272.98 L410.20,273.86 L410.70,274.83 L411.20,275.87 L411.70,276.99 L412.20,278.18 L412.70,279.43 L413.20,280.75 L413.70,282.13 L414.20,283.56 L414.70,285.04 L415.20,286.58 L415.70,288.16 L416.20,289.77 L416.70,291.43 L417.20,293.12 L417.70,294.83 L418.20,296.57 L418.70,298.33 L419.20,300.11 L419.70,301.91 L420.20,303.71 L420.70,305.52 L421.20,307.33 L421.70,309.15 L422.20,310.96 L422.70,312.77 L423.20,314.56 L423.70,316.35 L424.20,318.13 L424.70,319.89 L425.20,321.63 L425.70,323.35 L426.20,325.06 L426.70,326.74 L427.20,328.39 L427.70,330.03 L428.20,331.63 L428.70,333.21 L429.20,334.77 L429.70,336.29 L430.20,337.78 L430.70,339.25 L431.20,340.69 L431.70,342.09 L432.20,343.47 L432.70,344.82 L433.20,346.14 L433.70,347.43 L434.20,348.69 L434.70,349.92 L435.20,351.12 L435.70,352.30 L436.20,353.44 L436.70,354.56 L437.20,355.66 L437.70,356.72 L438.20,357.77 L438.70,358.78 L439.20,359.78 L439.70,360.74 L440.20,361.69 L440.70,362.61 L441.20,363.52 L441.70,364.40 L442.20,365.25 L442.70,366.09 L443.20,366.91 L443.70,367.71 L444.20,368.49 L444.70,369.26 L445.20,370.00 L445.70,370.73 L446.20,371.44 L446.70,372.14 L447.20,372.81 L447.70,373.48 L448.20,374.13 L448.70,374.76 L449.20,375.38 L449.70,375.98 L450.20,376.57 L450.70,377.14 L451.20,377.71 L451.70,378.26 L452.20,378.79 L452.70,379.32 L453.20,379.83 L453.70,380.33 L454.20,380.81 L454.70,381.29 L455.20,381.75 L455.70,382.20 L456.20,382.64 L456.70,383.07 L457.20,383.49 L457.70,383.90 L458.20,384.29 L458.70,384.68 L459.20,385.05 L459.70,385.42 L460.20,385.78 L460.70,386.12 L461.20,386.46 L461.70,386.79 L462.20,387.10 L462.70,387.41 L463.20,387.71 L463.70,388.00 L464.20,388.29 L464.70,388.56 L465.20,388.83 L465.70,389.08 L466.20,389.33 L466.70,389.57 L467.20,389.81 L467.70,390.04 L468.20,390.25 L468.70,390.47 L469.20,390.67 L469.70,390.87 L470.20,391.06 L470.70,391.25 L471.20,391.42 L471.70,391.60 L472.20,391.76 L472.70,391.92 L473.20,392.08 L473.70,392.23 L474.20,392.37 L474.70,392.51 L475.20,392.64 L475.70,392.77 L476.20,392.89 L476.70,393.01 L477.20,393.12 L477.70,393.23 L478.20,393.34 L478.70,393.44 L479.20,393.53 L479.70,393.63 L480.20,393.72 L480.70,393.80 L481.20,393.88 L481.70,393.96 L482.20,394.04 L482.70,394.11 L483.20,394.18 L483.70,394.24 L484.20,394.31 L484.70,394.37 L485.20,394.42 L485.70,394.48 L486.20,394.53 L486.70,394.58 L487.20,394.63 L487.70,394.67 L488.20,394.72 L488.70,394.76 L489.20,394.80 L489.70,394.83 L490.20,394.87 L490.70,394.90 L491.20,394.94 L491.70,394.97 L492.20,395.00 L492.70,395.02 L493.20,395.05 L493.70,395.08 L494.20,395.10 L494.70,395.12 L495.20,395.14 L495.70,395.16 L496.20,395.18 L496.70,395.20 L497.20,395.22 L497.70,395.24 L498.20,395.25 L498.70,395.27 L499.20,395.28 L499.70,395.29 L500.20,395.30 L500.70,395.32 L501.20,395.33 L501.70,395.34 L502.20,395.35 L502.70,395.36 L503.20,395.37 L503.70,395.37 L504.20,395.38 L504.70,395.39 L505.20,395.40 L505.70,395.40 L506.20,395.41 L506.70,395.42 L507.20,395.42 L507.70,395.43 L508.20,395.43 L508.70,395.43 L509.20,395.44 L509.70,395.44 L510.20,395.45 L510.70,395.45 L511.20,395.45 L511.70,395.46 L512.20,395.46 L512.70,395.46 L513.20,395.46 L513.70,395.47 L514.20,395.47 L514.70,395.47 L515.20,395.47 L515.70,395.48 L516.20,395.48 L516.70,395.48 L517.20,395.48 L517.70,395.48 L518.20,395.48 L518.70,395.48 L519.20,395.49 L519.70,395.49 L520.20,395.49 L520.70,395.49 L521.20,395.49 L521.70,395.49 L522.20,395.49 L522.70,395.49 L523.20,395.49 L523.70,395.49 L524.20,395.49 L524.70,395.49 L525.20,395.49 L525.70,395.49 L526.20,395.49 L526.70,395.50 L534.20,395.50" fill="none" stroke="#111" stroke-width="1.25"/>
<path d="M311.70,395.50 L353.70,395.50 L354.20,395.49 L354.70,395.49 L355.20,395.49 L355.70,395.49 L356.20,395.48 L356.70,395.48 L357.20,395.47 L357.70,395.46 L358.20,395.45 L358.70,395.44 L359.20,395.42 L359.70,395.40 L360.20,395.38 L360.70,395.35 L361.20,395.31 L361.70,395.26 L362.20,395.21 L362.70,395.14 L363.20,395.06 L363.70,394.96 L364.20,394.85 L364.70,394.71 L365.20,394.56 L365.70,394.37 L366.20,394.15 L366.70,393.90 L367.20,393.60 L367.70,393.26 L368.20,392.88 L368.70,392.43 L369.20,391.93 L369.70,391.36 L370.20,390.72 L370.70,390.00 L371.20,389.20 L371.70,388.30 L372.20,387.31 L372.70,386.22 L373.20,385.02 L373.70,383.71 L374.20,382.28 L374.70,380.72 L375.20,379.05 L375.70,377.24 L376.20,375.31 L376.70,373.24 L377.20,371.04 L377.70,368.72 L378.20,366.26 L378.70,363.68 L379.20,360.98 L379.70,358.17 L380.20,355.25 L380.70,352.22 L381.20,349.11 L381.70,345.91 L382.20,342.64 L382.70,339.31 L383.20,335.93 L383.70,332.52 L384.20,329.08 L384.70,325.64 L385.20,322.20 L385.70,318.79 L386.20,315.40 L386.70,312.06 L387.20,308.79 L387.70,305.58 L388.20,302.46 L388.70,299.44 L389.20,296.53 L389.70,293.73 L390.20,291.06 L390.70,288.53 L391.20,286.13 L391.70,283.88 L392.20,281.78 L392.70,279.83 L393.20,278.04 L393.70,276.40 L394.20,274.92 L394.70,273.59 L395.20,272.40 L395.70,271.37 L396.20,270.47 L396.70,269.71 L397.20,269.07 L397.70,268.55 L398.20,268.14 L398.70,267.83 L399.20,267.61 L399.70,267.46 L400.20,267.38 L400.70,267.34 L401.20,267.34 L401.70,267.39 L402.20,267.55 L402.70,267.82 L403.20,268.20 L403.70,268.68 L404.20,269.27 L404.70,269.96 L405.20,270.74 L405.70,271.63 L406.20,272.60 L406.70,273.67 L407.20,274.82 L407.70,276.06 L408.20,277.37 L408.70,278.76 L409.20,280.22 L409.70,281.74 L410.20,283.33 L410.70,284.96 L411.20,286.66 L411.70,288.39 L412.20,290.17 L412.70,291.98 L413.20,293.83 L413.70,295.70 L414.20,297.59 L414.70,299.51 L415.20,301.43 L415.70,303.37 L416.20,305.31 L416.70,307.25 L417.20,309.18 L417.70,311.11 L418.20,313.03 L418.70,314.94 L419.20,316.84 L419.70,318.71 L420.20,320.57 L420.70,322.40 L421.20,324.20 L421.70,325.98 L422.20,327.73 L422.70,329.46 L423.20,331.15 L423.70,332.81 L424.20,334.43 L424.70,336.03 L425.20,337.59 L425.70,339.11 L426.20,340.60 L426.70,342.06 L427.20,343.48 L427.70,344.87 L428.20,346.23 L428.70,347.55 L429.20,348.84 L429.70,350.10 L430.20,351.33 L430.70,352.52 L431.20,353.69 L431.70,354.83 L432.20,355.93 L432.70,357.01 L433.20,358.07 L433.70,359.09 L434.20,360.09 L434.70,361.07 L435.20,362.02 L435.70,362.95 L436.20,363.85 L436.70,364.73 L437.20,365.60 L437.70,366.44 L438.20,367.26 L438.70,368.06 L439.20,368.84 L439.70,369.60 L440.20,370.35 L440.70,371.08 L441.20,371.79 L441.70,372.49 L442.20,373.17 L442.70,373.83 L443.20,374.48 L443.70,375.11 L444.20,375.73 L444.70,376.34 L445.20,376.93 L445.70,377.50 L446.20,378.07 L446.70,378.62 L447.20,379.15 L447.70,379.68 L448.20,380.19 L448.70,380.69 L449.20,381.18 L449.70,381.65 L450.20,382.12 L450.70,382.57 L451.20,383.01 L451.70,383.44 L452.20,383.86 L452.70,384.26 L453.20,384.66 L453.70,385.04 L454.20,385.42 L454.70,385.78 L455.20,386.14 L455.70,386.48 L456.20,386.82 L456.70,387.14 L457.20,387.46 L457.70,387.76 L458.20,388.06 L458.70,388.35 L459.20,388.63 L459.70,388.90 L460.20,389.16 L460.70,389.41 L461.20,389.66 L461.70,389.90 L462.20,390.13 L462.70,390.35 L463.20,390.56 L463.70,390.77 L464.20,390.97 L464.70,391.16 L465.20,391.35 L465.70,391.53 L466.20,391.70 L466.70,391.87 L467.20,392.03 L467.70,392.19 L468.20,392.33 L468.70,392.48 L469.20,392.62 L469.70,392.75 L470.20,392.87 L470.70,393.00 L471.20,393.11 L471.70,393.23 L472.20,393.34 L472.70,393.44 L473.20,393.54 L473.70,393.63 L474.20,393.72 L474.70,393.81 L475.20,393.90 L475.70,393.98 L476.20,394.05 L476.70,394.12 L477.20,394.19 L477.70,394.26 L478.20,394.33 L478.70,394.39 L479.20,394.44 L479.70,394.50 L480.20,394.55 L480.70,394.60 L481.20,394.65 L481.70,394.70 L482.20,394.74 L482.70,394.78 L483.20,394.82 L483.70,394.86 L484.20,394.89 L484.70,394.93 L485.20,394.96 L485.70,394.99 L486.20,395.02 L486.70,395.05 L487.20,395.07 L487.70,395.10 L488.20,395.12 L488.70,395.14 L489.20,395.16 L489.70,395.18 L490.20,395.20 L490.70,395.22 L491.20,395.24 L491.70,395.25 L492.20,395.27 L492.70,395.28 L493.20,395.29 L493.70,395.31 L494.20,395.32 L494.70,395.33 L495.20,395.34 L495.70,395.35 L496.20,395.36 L496.70,395.37 L497.20,395.38 L497.70,395.39 L498.20,395.39 L498.70,395.40 L499.20,395.41 L499.70,395.41 L500.20,395.42 L500.70,395.42 L501.20,395.43 L501.70,395.43 L502.20,395.44 L502.70,395.44 L503.20,395.45 L503.70,395.45 L504.20,395.45 L504.70,395.46 L505.20,395.46 L505.70,395.46 L506.20,395.46 L506.70,395.47 L507.20,395.47 L507.70,395.47 L508.20,395.47 L508.70,395.48 L509.20,395.48 L509.70,395.48 L510.20,395.48 L510.70,395.48 L511.20,395.48 L511.70,395.48 L512.20,395.49 L512.70,395.49 L513.20,395.49 L513.70,395.49 L514.20,395.49 L514.70,395.49 L515.20,395.49 L515.70,395.49 L516.20,395.49 L516.70,395.49 L517.20,395.49 L517.70,395.49 L518.20,395.49 L518.70,395.49 L519.20,395.50 L534.20,395.50" fill="none" stroke="#ff0000" stroke-width="1.25"/>
<path d="M311.70,395.50 L347.70,395.50 L348.20,395.49 L348.70,395.49 L349.20,395.49 L349.70,395.49 L350.20,395.48 L350.70,395.48 L351.20,395.47 L351.70,395.47 L352.20,395.46 L352.70,395.45 L353.20,395.43 L353.70,395.41 L354.20,395.39 L354.70,395.37 L355.20,395.34 L355.70,395.30 L356.20,395.25 L356.70,395.20 L357.20,395.13 L357.70,395.05 L358.20,394.96 L358.70,394.85 L359.20,394.72 L359.70,394.57 L360.20,394.40 L360.70,394.19 L361.20,393.96 L361.70,393.69 L362.20,393.37 L362.70,393.02 L363.20,392.61 L363.70,392.15 L364.20,391.62 L364.70,391.04 L365.20,390.37 L365.70,389.64 L366.20,388.81 L366.70,387.90 L367.20,386.90 L367.70,385.79 L368.20,384.57 L368.70,383.24 L369.20,381.79 L369.70,380.23 L370.20,378.53 L370.70,376.71 L371.20,374.75 L371.70,372.66 L372.20,370.44 L372.70,368.08 L373.20,365.59 L373.70,362.97 L374.20,360.22 L374.70,357.35 L375.20,354.36 L375.70,351.25 L376.20,348.05 L376.70,344.76 L377.20,341.38 L377.70,337.92 L378.20,334.41 L378.70,330.86 L379.20,327.26 L379.70,323.65 L380.20,320.04 L380.70,316.43 L381.20,312.85 L381.70,309.31 L382.20,305.82 L382.70,302.41 L383.20,299.08 L383.70,295.84 L384.20,292.72 L384.70,289.72 L385.20,286.85 L385.70,284.13 L386.20,281.56 L386.70,279.14 L387.20,276.90 L387.70,274.82 L388.20,272.92 L388.70,271.20 L389.20,269.65 L389.70,268.28 L390.20,267.08 L390.70,266.05 L391.20,265.19 L391.70,264.48 L392.20,263.92 L392.70,263.49 L393.20,263.20 L393.70,263.01 L394.20,262.91 L394.70,262.89 L395.20,262.92 L395.70,263.05 L396.20,263.27 L396.70,263.59 L397.20,264.01 L397.70,264.53 L398.20,265.14 L398.70,265.84 L399.20,266.63 L399.70,267.51 L400.20,268.47 L400.70,269.52 L401.20,270.64 L401.70,271.85 L402.20,273.13 L402.70,274.48 L403.20,275.89 L403.70,277.37 L404.20,278.91 L404.70,280.51 L405.20,282.16 L405.70,283.86 L406.20,285.60 L406.70,287.39 L407.20,289.21 L407.70,291.06 L408.20,292.94 L408.70,294.85 L409.20,296.78 L409.70,298.73 L410.20,300.69 L410.70,302.66 L411.20,304.64 L411.70,306.62 L412.20,308.60 L412.70,310.58 L413.20,312.56 L413.70,314.52 L414.20,316.48 L414.70,318.42 L415.20,320.34 L415.70,322.25 L416.20,324.14 L416.70,326.00 L417.20,327.84 L417.70,329.66 L418.20,331.44 L418.70,333.20 L419.20,334.93 L419.70,336.63 L420.20,338.30 L420.70,339.94 L421.20,341.54 L421.70,343.12 L422.20,344.65 L422.70,346.16 L423.20,347.63 L423.70,349.07 L424.20,350.47 L424.70,351.84 L425.20,353.17 L425.70,354.47 L426.20,355.74 L426.70,356.98 L427.20,358.18 L427.70,359.35 L428.20,360.50 L428.70,361.61 L429.20,362.68 L429.70,363.73 L430.20,364.76 L430.70,365.75 L431.20,366.71 L431.70,367.65 L432.20,368.56 L432.70,369.45 L433.20,370.31 L433.70,371.14 L434.20,371.95 L434.70,372.74 L435.20,373.50 L435.70,374.25 L436.20,374.97 L436.70,375.67 L437.20,376.35 L437.70,377.01 L438.20,377.65 L438.70,378.27 L439.20,378.87 L439.70,379.46 L440.20,380.03 L440.70,380.58 L441.20,381.11 L441.70,381.63 L442.20,382.13 L442.70,382.62 L443.20,383.10 L443.70,383.55 L444.20,384.00 L444.70,384.43 L445.20,384.85 L445.70,385.25 L446.20,385.65 L446.70,386.02 L447.20,386.39 L447.70,386.75 L448.20,387.09 L448.70,387.43 L449.20,387.75 L449.70,388.06 L450.20,388.36 L450.70,388.65 L451.20,388.94 L451.70,389.21 L452.20,389.47 L452.70,389.72 L453.20,389.97 L453.70,390.21 L454.20,390.43 L454.70,390.65 L455.20,390.87 L455.70,391.07 L456.20,391.27 L456.70,391.45 L457.20,391.64 L457.70,391.81 L458.20,391.98 L458.70,392.14 L459.20,392.30 L459.70,392.45 L460.20,392.59 L460.70,392.73 L461.20,392.86 L461.70,392.99 L462.20,393.11 L462.70,393.23 L463.20,393.34 L463.70,393.44 L464.20,393.55 L464.70,393.64 L465.20,393.74 L465.70,393.83 L466.20,393.91 L466.70,393.99 L467.20,394.07 L467.70,394.15 L468.20,394.22 L468.70,394.29 L469.20,394.35 L469.70,394.41 L470.20,394.47 L470.70,394.53 L471.20,394.58 L471.70,394.63 L472.20,394.68 L472.70,394.72 L473.20,394.77 L473.70,394.81 L474.20,394.85 L474.70,394.88 L475.20,394.92 L475.70,394.95 L476.20,394.99 L476.70,395.02 L477.20,395.04 L477.70,395.07 L478.20,395.10 L478.70,395.12 L479.20,395.14 L479.70,395.16 L480.20,395.19 L480.70,395.20 L481.20,395.22 L481.70,395.24 L482.20,395.26 L482.70,395.27 L483.20,395.29 L483.70,395.30 L484.20,395.31 L484.70,395.32 L485.20,395.34 L485.70,395.35 L486.20,395.36 L486.70,395.37 L487.20,395.37 L487.70,395.38 L488.20,395.39 L488.70,395.40 L489.20,395.40 L489.70,395.41 L490.20,395.42 L490.70,395.42 L491.20,395.43 L491.70,395.43 L492.20,395.44 L492.70,395.44 L493.20,395.45 L493.70,395.45 L494.20,395.45 L494.70,395.46 L495.20,395.46 L495.70,395.46 L496.20,395.47 L496.70,395.47 L497.20,395.47 L497.70,395.47 L498.20,395.47 L498.70,395.48 L499.20,395.48 L499.70,395.48 L500.20,395.48 L500.70,395.48 L501.20,395.48 L501.70,395.49 L502.20,395.49 L502.70,395.49 L503.20,395.49 L503.70,395.49 L504.20,395.49 L504.70,395.49 L505.20,395.49 L505.70,395.49 L506.20,395.49 L506.70,395.49 L507.20,395.49 L507.70,395.49 L508.20,395.49 L508.70,395.50 L534.20,395.50" fill="none" stroke="#0000ff" stroke-width="1.25"/>
<path d="M311.70,395.50 L347.20,395.50 L347.70,395.49 L348.20,395.49 L348.70,395.49 L349.20,395.49 L349.70,395.48 L350.20,395.47 L350.70,395.47 L351.20,395.46 L351.70,395.44 L352.20,395.43 L352.70,395.40 L353.20,395.38 L353.70,395.34 L354.20,395.30 L354.70,395.25 L355.20,395.19 L355.70,395.11 L356.20,395.01 L356.70,394.90 L357.20,394.76 L357.70,394.60 L358.20,394.40 L358.70,394.17 L359.20,393.89 L359.70,393.57 L360.20,393.19 L360.70,392.75 L361.20,392.25 L361.70,391.67 L362.20,391.00 L362.70,390.25 L363.20,389.39 L363.70,388.42 L364.20,387.34 L364.70,386.13 L365.20,384.79 L365.70,383.31 L366.20,381.68 L366.70,379.89 L367.20,377.95 L367.70,375.84 L368.20,373.56 L368.70,371.11 L369.20,368.49 L369.70,365.70 L370.20,362.75 L370.70,359.64 L371.20,356.37 L371.70,352.95 L372.20,349.40 L372.70,345.72 L373.20,341.93 L373.70,338.04 L374.20,334.07 L374.70,330.03 L375.20,325.95 L375.70,321.84 L376.20,317.72 L376.70,313.62 L377.20,309.54 L377.70,305.53 L378.20,301.58 L378.70,297.72 L379.20,293.98 L379.70,290.36 L380.20,286.89 L380.70,283.57 L381.20,280.42 L381.70,277.46 L382.20,274.68 L382.70,272.10 L383.20,269.73 L383.70,267.57 L384.20,265.61 L384.70,263.87 L385.20,262.32 L385.70,260.99 L386.20,259.84 L386.70,258.88 L387.20,258.10 L387.70,257.49 L388.20,257.02 L388.70,256.70 L389.20,256.48 L389.70,256.37 L390.20,256.33 L390.70,256.33 L391.20,256.43 L391.70,256.64 L392.20,256.95 L392.70,257.37 L393.20,257.90 L393.70,258.52 L394.20,259.25 L394.70,260.08 L395.20,261.01 L395.70,262.03 L396.20,263.15 L396.70,264.35 L397.20,265.64 L397.70,267.01 L398.20,268.45 L398.70,269.97 L399.20,271.56 L399.70,273.22 L400.20,274.94 L400.70,276.71 L401.20,278.54 L401.70,280.41 L402.20,282.33 L402.70,284.29 L403.20,286.28 L403.70,288.30 L404.20,290.35 L404.70,292.42 L405.20,294.51 L405.70,296.62 L406.20,298.73 L406.70,300.85 L407.20,302.97 L407.70,305.10 L408.20,307.22 L408.70,309.33 L409.20,311.43 L409.70,313.51 L410.20,315.59 L410.70,317.64 L411.20,319.68 L411.70,321.69 L412.20,323.67 L412.70,325.63 L413.20,327.57 L413.70,329.47 L414.20,331.35 L414.70,333.19 L415.20,335.00 L415.70,336.78 L416.20,338.52 L416.70,340.23 L417.20,341.90 L417.70,343.54 L418.20,345.14 L418.70,346.71 L419.20,348.24 L419.70,349.74 L420.20,351.20 L420.70,352.62 L421.20,354.01 L421.70,355.37 L422.20,356.69 L422.70,357.98 L423.20,359.23 L423.70,360.46 L424.20,361.65 L424.70,362.80 L425.20,363.93 L425.70,365.02 L426.20,366.09 L426.70,367.12 L427.20,368.13 L427.70,369.11 L428.20,370.06 L428.70,370.98 L429.20,371.88 L429.70,372.75 L430.20,373.59 L430.70,374.41 L431.20,375.20 L431.70,375.97 L432.20,376.72 L432.70,377.45 L433.20,378.15 L433.70,378.83 L434.20,379.49 L434.70,380.12 L435.20,380.74 L435.70,381.34 L436.20,381.92 L436.70,382.48 L437.20,383.02 L437.70,383.54 L438.20,384.04 L438.70,384.53 L439.20,385.00 L439.70,385.46 L440.20,385.89 L440.70,386.32 L441.20,386.72 L441.70,387.12 L442.20,387.50 L442.70,387.86 L443.20,388.21 L443.70,388.55 L444.20,388.87 L444.70,389.18 L445.20,389.48 L445.70,389.77 L446.20,390.05 L446.70,390.31 L447.20,390.57 L447.70,390.81 L448.20,391.05 L448.70,391.27 L449.20,391.48 L449.70,391.69 L450.20,391.88 L450.70,392.07 L451.20,392.25 L451.70,392.42 L452.20,392.59 L452.70,392.74 L453.20,392.89 L453.70,393.03 L454.20,393.17 L454.70,393.30 L455.20,393.42 L455.70,393.54 L456.20,393.65 L456.70,393.75 L457.20,393.85 L457.70,393.95 L458.20,394.04 L458.70,394.12 L459.20,394.20 L459.70,394.28 L460.20,394.35 L460.70,394.42 L461.20,394.49 L461.70,394.55 L462.20,394.61 L462.70,394.66 L463.20,394.71 L463.70,394.76 L464.20,394.81 L464.70,394.85 L465.20,394.90 L465.70,394.93 L466.20,394.97 L466.70,395.01 L467.20,395.04 L467.70,395.07 L468.20,395.10 L468.70,395.12 L469.20,395.15 L469.70,395.17 L470.20,395.20 L470.70,395.22 L471.20,395.24 L471.70,395.25 L472.20,395.27 L472.70,395.29 L473.20,395.30 L473.70,395.32 L474.20,395.33 L474.70,395.34 L475.20,395.35 L475.70,395.36 L476.20,395.37 L476.70,395.38 L477.20,395.39 L477.70,395.40 L478.20,395.41 L478.70,395.41 L479.20,395.42 L479.70,395.43 L480.20,395.43 L480.70,395.44 L481.20,395.44 L481.70,395.45 L482.20,395.45 L482.70,395.45 L483.20,395.46 L483.70,395.46 L484.20,395.46 L484.70,395.47 L485.20,395.47 L485.70,395.47 L486.20,395.47 L486.70,395.48 L487.20,395.48 L487.70,395.48 L488.20,395.48 L488.70,395.48 L489.20,395.48 L489.70,395.49 L490.20,395.49 L490.70,395.49 L491.20,395.49 L491.70,395.49 L492.20,395.49 L492.70,395.49 L493.20,395.49 L493.70,395.49 L494.20,395.49 L494.70,395.49 L495.20,395.49 L495.70,395.50 L534.20,395.50" fill="none" stroke="#ff00ff" stroke-width="1.25"/>
<path d="M311.70,395.50 L347.20,395.50 L347.70,395.49 L348.20,395.49 L348.70,395.49 L349.20,395.48 L349.70,395.48 L350.20,395.47 L350.70,395.46 L351.20,395.45 L351.70,395.43 L352.20,395.40 L352.70,395.37 L353.20,395.33 L353.70,395.28 L354.20,395.22 L354.70,395.13 L355.20,395.03 L355.70,394.91 L356.20,394.75 L356.70,394.56 L357.20,394.33 L357.70,394.05 L358.20,393.72 L358.70,393.32 L359.20,392.85 L359.70,392.29 L360.20,391.65 L360.70,390.89 L361.20,390.03 L361.70,389.03 L362.20,387.89 L362.70,386.61 L363.20,385.16 L363.70,383.53 L364.20,381.73 L364.70,379.73 L365.20,377.53 L365.70,375.12 L366.20,372.51 L366.70,369.68 L367.20,366.65 L367.70,363.40 L368.20,359.95 L368.70,356.31 L369.20,352.48 L369.70,348.47 L370.20,344.31 L370.70,340.01 L371.20,335.59 L371.70,331.07 L372.20,326.48 L372.70,321.84 L373.20,317.17 L373.70,312.51 L374.20,307.88 L374.70,303.30 L375.20,298.80 L375.70,294.41 L376.20,290.15 L376.70,286.04 L377.20,282.10 L377.70,278.35 L378.20,274.81 L378.70,271.49 L379.20,268.40 L379.70,265.55 L380.20,262.94 L380.70,260.58 L381.20,258.46 L381.70,256.59 L382.20,254.95 L382.70,253.55 L383.20,252.36 L383.70,251.38 L384.20,250.60 L384.70,249.99 L385.20,249.54 L385.70,249.23 L386.20,249.04 L386.70,248.94 L387.20,248.91 L387.70,248.92 L388.20,249.04 L388.70,249.31 L389.20,249.72 L389.70,250.26 L390.20,250.95 L390.70,251.76 L391.20,252.70 L391.70,253.78 L392.20,254.97 L392.70,256.28 L393.20,257.71 L393.70,259.25 L394.20,260.89 L394.70,262.63 L395.20,264.46 L395.70,266.37 L396.20,268.37 L396.70,270.44 L397.20,272.57 L397.70,274.77 L398.20,277.02 L398.70,279.32 L399.20,281.66 L399.70,284.03 L400.20,286.43 L400.70,288.86 L401.20,291.30 L401.70,293.76 L402.20,296.22 L402.70,298.68 L403.20,301.13 L403.70,303.58 L404.20,306.01 L404.70,308.43 L405.20,310.82 L405.70,313.19 L406.20,315.53 L406.70,317.84 L407.20,320.12 L407.70,322.36 L408.20,324.57 L408.70,326.73 L409.20,328.85 L409.70,330.93 L410.20,332.97 L410.70,334.96 L411.20,336.91 L411.70,338.81 L412.20,340.66 L412.70,342.47 L413.20,344.23 L413.70,345.95 L414.20,347.62 L414.70,349.25 L415.20,350.83 L415.70,352.37 L416.20,353.86 L416.70,355.32 L417.20,356.73 L417.70,358.10 L418.20,359.43 L418.70,360.72 L419.20,361.97 L419.70,363.19 L420.20,364.37 L420.70,365.51 L421.20,366.62 L421.70,367.70 L422.20,368.74 L422.70,369.75 L423.20,370.73 L423.70,371.68 L424.20,372.60 L424.70,373.49 L425.20,374.35 L425.70,375.19 L426.20,376.00 L426.70,376.78 L427.20,377.54 L427.70,378.27 L428.20,378.98 L428.70,379.67 L429.20,380.33 L429.70,380.97 L430.20,381.59 L430.70,382.19 L431.20,382.77 L431.70,383.32 L432.20,383.86 L432.70,384.38 L433.20,384.88 L433.70,385.36 L434.20,385.83 L434.70,386.27 L435.20,386.70 L435.70,387.12 L436.20,387.52 L436.70,387.90 L437.20,388.27 L437.70,388.62 L438.20,388.96 L438.70,389.28 L439.20,389.59 L439.70,389.89 L440.20,390.18 L440.70,390.45 L441.20,390.72 L441.70,390.97 L442.20,391.21 L442.70,391.43 L443.20,391.65 L443.70,391.86 L444.20,392.06 L444.70,392.25 L445.20,392.43 L445.70,392.60 L446.20,392.77 L446.70,392.92 L447.20,393.07 L447.70,393.21 L448.20,393.35 L448.70,393.47 L449.20,393.59 L449.70,393.71 L450.20,393.81 L450.70,393.92 L451.20,394.01 L451.70,394.11 L452.20,394.19 L452.70,394.27 L453.20,394.35 L453.70,394.42 L454.20,394.49 L454.70,394.56 L455.20,394.62 L455.70,394.68 L456.20,394.73 L456.70,394.78 L457.20,394.83 L457.70,394.87 L458.20,394.92 L458.70,394.96 L459.20,394.99 L459.70,395.03 L460.20,395.06 L460.70,395.09 L461.20,395.12 L461.70,395.15 L462.20,395.17 L462.70,395.20 L463.20,395.22 L463.70,395.24 L464.20,395.26 L464.70,395.28 L465.20,395.29 L465.70,395.31 L466.20,395.32 L466.70,395.34 L467.20,395.35 L467.70,395.36 L468.20,395.37 L468.70,395.38 L469.20,395.39 L469.70,395.40 L470.20,395.41 L470.70,395.41 L471.20,395.42 L471.70,395.43 L472.20,395.43 L472.70,395.44 L473.20,395.44 L473.70,395.45 L474.20,395.45 L474.70,395.46 L475.20,395.46 L475.70,395.46 L476.20,395.47 L476.70,395.47 L477.20,395.47 L477.70,395.47 L478.20,395.48 L478.70,395.48 L479.20,395.48 L479.70,395.48 L480.20,395.48 L480.70,395.49 L481.20,395.49 L481.70,395.49 L482.20,395.49 L482.70,395.49 L483.20,395.49 L483.70,395.49 L484.20,395.49 L484.70,395.49 L485.20,395.49 L485.70,395.49 L486.20,395.49 L486.70,395.50 L534.20,395.50" fill="none" stroke="#111" stroke-width="1.25" stroke-dasharray="4.6,1.9"/>
<text class="r" x="311.70" y="408.35" text-anchor="middle" font-size="7.4" >1</text>
<text class="r" x="423.10" y="408.35" text-anchor="middle" font-size="7.4" >10</text>
<text class="r" x="534.50" y="408.35" text-anchor="middle" font-size="7.4" >100</text>
<text class="b" x="423.10" y="422.50" text-anchor="middle" font-size="7.4" >Size (hydrodynamic diameter, nm)</text>
<text transform="translate(290.40,317.40) rotate(-90)" class="b" text-anchor="middle" font-size="7.4">Volume distribution (%)</text>
<text class="b" x="311.50" y="229.90" text-anchor="start" font-size="8.9" >(d)</text>
<path d="M470.2,249.4 H489.1" stroke="#111" stroke-width="1.25"/>
<text class="r" x="494.20" y="252.20" text-anchor="start" font-size="7.4" >1% Ficoll</text>
<path d="M470.2,257.4 H489.1" stroke="#ff0000" stroke-width="1.25"/>
<text class="r" x="494.20" y="260.20" text-anchor="start" font-size="7.4" >3% Ficoll</text>
<path d="M470.2,265.8 H489.1" stroke="#0000ff" stroke-width="1.25"/>
<text class="r" x="494.20" y="268.60" text-anchor="start" font-size="7.4" >5% Ficoll</text>
<path d="M470.2,274.3 H489.1" stroke="#ff00ff" stroke-width="1.25"/>
<text class="r" x="494.20" y="277.10" text-anchor="start" font-size="7.4" >7% Ficoll</text>
<path d="M470.2,282.8 H489.1" stroke="#111" stroke-width="1.25" stroke-dasharray="4.6,1.9"/>
<text class="r" x="494.20" y="285.60" text-anchor="start" font-size="7.4" >10% Ficoll</text>
</svg>
</body></html>
